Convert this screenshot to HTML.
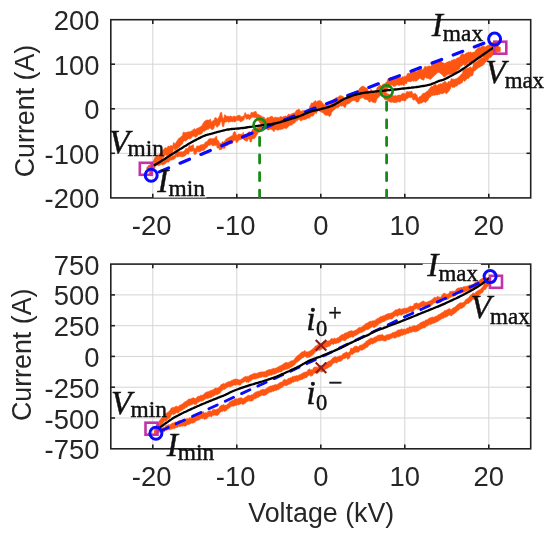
<!DOCTYPE html>
<html><head><meta charset="utf-8"><title>I-V curves</title>
<style>html,body{margin:0;padding:0;background:#fff}svg{display:block}</style></head>
<body>
<svg width="550" height="536" viewBox="0 0 550 536">
<rect width="550" height="536" fill="#fff"/>
<g stroke="#d4d4d4" stroke-width="1"><line x1="152.8" y1="19.7" x2="152.8" y2="197.9"/><line x1="236.8" y1="19.7" x2="236.8" y2="197.9"/><line x1="320.8" y1="19.7" x2="320.8" y2="197.9"/><line x1="404.8" y1="19.7" x2="404.8" y2="197.9"/><line x1="488.8" y1="19.7" x2="488.8" y2="197.9"/><line x1="110.8" y1="153.3" x2="530.7" y2="153.3"/><line x1="110.8" y1="108.8" x2="530.7" y2="108.8"/><line x1="110.8" y1="64.2" x2="530.7" y2="64.2"/></g>
<g stroke="#d4d4d4" stroke-width="1"><line x1="152.8" y1="264.1" x2="152.8" y2="448.8"/><line x1="236.8" y1="264.1" x2="236.8" y2="448.8"/><line x1="320.8" y1="264.1" x2="320.8" y2="448.8"/><line x1="404.8" y1="264.1" x2="404.8" y2="448.8"/><line x1="488.8" y1="264.1" x2="488.8" y2="448.8"/><line x1="110.8" y1="418.0" x2="530.7" y2="418.0"/><line x1="110.8" y1="387.2" x2="530.7" y2="387.2"/><line x1="110.8" y1="356.4" x2="530.7" y2="356.4"/><line x1="110.8" y1="325.7" x2="530.7" y2="325.7"/><line x1="110.8" y1="294.9" x2="530.7" y2="294.9"/></g>
<g stroke="#222" stroke-width="1.6"><rect x="110.8" y="19.7" width="419.9" height="178.2" fill="none"/><line x1="152.8" y1="197.9" x2="152.8" y2="193.70000000000002"/><line x1="152.8" y1="19.7" x2="152.8" y2="23.9"/><line x1="236.8" y1="197.9" x2="236.8" y2="193.70000000000002"/><line x1="236.8" y1="19.7" x2="236.8" y2="23.9"/><line x1="320.8" y1="197.9" x2="320.8" y2="193.70000000000002"/><line x1="320.8" y1="19.7" x2="320.8" y2="23.9"/><line x1="404.8" y1="197.9" x2="404.8" y2="193.70000000000002"/><line x1="404.8" y1="19.7" x2="404.8" y2="23.9"/><line x1="488.8" y1="197.9" x2="488.8" y2="193.70000000000002"/><line x1="488.8" y1="19.7" x2="488.8" y2="23.9"/><line x1="110.8" y1="153.3" x2="115.0" y2="153.3"/><line x1="530.7" y1="153.3" x2="526.5" y2="153.3"/><line x1="110.8" y1="108.8" x2="115.0" y2="108.8"/><line x1="530.7" y1="108.8" x2="526.5" y2="108.8"/><line x1="110.8" y1="64.2" x2="115.0" y2="64.2"/><line x1="530.7" y1="64.2" x2="526.5" y2="64.2"/></g>
<g stroke="#222" stroke-width="1.6"><rect x="110.8" y="264.1" width="419.9" height="184.7" fill="none"/><line x1="152.8" y1="448.8" x2="152.8" y2="444.6"/><line x1="152.8" y1="264.1" x2="152.8" y2="268.3"/><line x1="236.8" y1="448.8" x2="236.8" y2="444.6"/><line x1="236.8" y1="264.1" x2="236.8" y2="268.3"/><line x1="320.8" y1="448.8" x2="320.8" y2="444.6"/><line x1="320.8" y1="264.1" x2="320.8" y2="268.3"/><line x1="404.8" y1="448.8" x2="404.8" y2="444.6"/><line x1="404.8" y1="264.1" x2="404.8" y2="268.3"/><line x1="488.8" y1="448.8" x2="488.8" y2="444.6"/><line x1="488.8" y1="264.1" x2="488.8" y2="268.3"/><line x1="110.8" y1="418.0" x2="115.0" y2="418.0"/><line x1="530.7" y1="418.0" x2="526.5" y2="418.0"/><line x1="110.8" y1="387.2" x2="115.0" y2="387.2"/><line x1="530.7" y1="387.2" x2="526.5" y2="387.2"/><line x1="110.8" y1="356.4" x2="115.0" y2="356.4"/><line x1="530.7" y1="356.4" x2="526.5" y2="356.4"/><line x1="110.8" y1="325.7" x2="115.0" y2="325.7"/><line x1="530.7" y1="325.7" x2="526.5" y2="325.7"/><line x1="110.8" y1="294.9" x2="115.0" y2="294.9"/><line x1="530.7" y1="294.9" x2="526.5" y2="294.9"/></g>
<line x1="422.7" y1="264.55" x2="480.9" y2="264.55" stroke="#fff" stroke-width="1.5"/>
<line x1="153.6" y1="197.3" x2="206.4" y2="197.3" stroke="#fff" stroke-width="0.7"/>
<path d="M146.8 167.4 L147.5 166.8 L148.2 166.1 L148.9 165.0 L149.6 165.1 L150.3 164.9 L151.0 164.6 L151.7 163.7 L152.4 163.0 L153.1 161.3 L153.8 160.1 L154.5 157.9 L155.2 157.0 L155.9 157.1 L156.6 155.6 L157.3 154.8 L158.0 154.9 L158.7 155.3 L159.4 153.8 L160.1 153.2 L160.8 152.6 L161.5 153.7 L162.2 153.0 L162.9 150.1 L163.6 149.6 L164.3 148.4 L165.0 148.0 L165.7 147.5 L166.4 148.2 L167.1 147.5 L167.8 146.6 L168.5 145.8 L169.2 146.8 L169.9 146.1 L170.6 145.5 L171.3 145.8 L172.0 145.4 L172.7 146.8 L173.4 142.5 L174.1 142.8 L174.8 144.3 L175.5 143.2 L176.2 141.9 L176.9 140.9 L177.6 140.0 L178.3 138.8 L179.0 138.2 L179.7 137.8 L180.4 137.3 L181.1 136.5 L181.8 136.0 L182.5 135.5 L183.2 132.1 L183.9 132.3 L184.6 132.4 L185.3 132.5 L186.0 132.4 L186.7 132.3 L187.4 132.1 L188.1 131.9 L188.8 131.7 L189.5 131.8 L190.2 131.4 L190.9 131.4 L191.6 130.8 L192.3 130.4 L193.0 130.0 L193.7 129.0 L194.4 128.5 L195.1 129.9 L195.8 128.9 L196.5 128.7 L197.2 128.2 L197.9 128.1 L198.6 127.8 L199.3 127.3 L200.0 126.9 L200.7 126.6 L201.4 126.0 L202.1 125.5 L202.8 123.5 L203.5 122.9 L204.2 121.7 L204.9 120.8 L205.6 120.7 L206.3 120.3 L207.0 120.0 L207.7 120.1 L208.4 120.2 L209.1 119.8 L209.8 119.9 L210.5 118.9 L211.2 121.9 L211.9 121.9 L212.6 120.8 L213.3 120.5 L214.0 120.6 L214.7 117.9 L215.4 117.7 L216.1 117.5 L216.8 119.1 L217.5 119.0 L218.2 118.2 L218.9 116.9 L219.6 115.8 L220.3 112.8 L221.0 112.4 L221.7 112.5 L222.4 116.9 L223.1 118.2 L223.8 118.4 L224.5 114.7 L225.2 115.1 L225.9 115.5 L226.6 116.2 L227.3 116.2 L228.0 116.1 L228.7 116.5 L229.4 116.4 L230.1 116.0 L230.8 115.9 L231.5 116.3 L232.2 117.4 L232.9 116.3 L233.6 116.3 L234.3 116.2 L235.0 116.1 L235.7 117.0 L236.4 116.2 L237.1 116.0 L237.8 115.5 L238.5 115.3 L239.2 115.4 L239.9 115.0 L240.6 116.8 L241.3 116.6 L242.0 116.7 L242.7 116.5 L243.4 115.9 L244.1 115.8 L244.8 112.8 L245.5 112.7 L246.2 114.8 L246.9 114.7 L247.6 114.4 L248.3 114.3 L249.0 114.9 L249.7 114.9 L250.4 114.8 L251.1 112.4 L251.8 112.3 L252.5 112.6 L253.2 112.7 L253.9 111.8 L254.6 111.7 L255.3 111.5 L256.0 111.3 L256.7 113.4 L257.4 114.0 L258.1 114.5 L258.8 114.5 L259.5 115.0 L260.2 115.6 L260.9 115.5 L261.6 116.2 L262.3 116.7 L263.0 117.3 L263.7 116.9 L264.4 117.3 L265.1 118.9 L265.8 119.1 L266.5 118.8 L267.2 117.6 L267.9 117.6 L268.6 117.7 L269.3 117.4 L270.0 117.1 L270.7 116.2 L271.4 116.3 L272.1 116.5 L272.8 116.7 L273.5 117.9 L274.2 118.2 L274.9 116.9 L275.6 117.2 L276.3 117.5 L277.0 117.2 L277.7 117.4 L278.4 117.5 L279.1 117.7 L279.8 116.8 L280.5 116.6 L281.2 116.4 L281.9 117.3 L282.6 117.1 L283.3 116.8 L284.0 116.1 L284.7 116.5 L285.4 115.9 L286.1 116.3 L286.8 116.1 L287.5 115.4 L288.2 114.2 L288.9 114.0 L289.6 114.8 L290.3 114.7 L291.0 114.5 L291.7 113.6 L292.4 113.5 L293.1 113.1 L293.8 113.0 L294.5 112.9 L295.2 112.3 L295.9 111.1 L296.6 110.1 L297.3 110.1 L298.0 109.5 L298.7 109.1 L299.4 109.5 L300.1 110.4 L300.8 111.2 L301.5 111.3 L302.2 111.4 L302.9 109.9 L303.6 111.1 L304.3 110.9 L305.0 111.1 L305.7 111.3 L306.4 111.4 L307.1 110.9 L307.8 110.0 L308.5 109.3 L309.2 108.5 L309.9 106.0 L310.6 105.1 L311.3 102.9 L312.0 103.1 L312.7 103.0 L313.4 102.5 L314.1 101.5 L314.8 101.0 L315.5 100.5 L316.2 102.2 L316.9 101.6 L317.6 101.1 L318.3 100.8 L319.0 100.7 L319.7 100.6 L320.4 100.8 L321.1 101.3 L321.8 101.9 L322.5 103.1 L323.2 103.6 L323.9 104.5 L324.6 104.7 L325.3 104.5 L326.0 105.3 L326.7 105.3 L327.4 105.5 L328.1 105.6 L328.8 105.6 L329.5 105.0 L330.2 104.2 L330.9 103.4 L331.6 101.1 L332.3 100.6 L333.0 99.9 L333.7 99.2 L334.4 99.0 L335.1 98.3 L335.8 97.9 L336.5 97.3 L337.2 97.3 L337.9 97.2 L338.6 96.7 L339.3 96.1 L340.0 95.5 L340.7 95.7 L341.4 96.1 L342.1 95.8 L342.8 96.7 L343.5 96.7 L344.2 98.3 L344.9 98.9 L345.6 98.2 L346.3 96.9 L347.0 96.5 L347.7 96.1 L348.4 95.8 L349.1 95.9 L349.8 95.5 L350.5 94.9 L351.2 94.0 L351.9 93.6 L352.6 94.2 L353.3 93.7 L354.0 93.3 L354.7 91.7 L355.4 92.3 L356.1 93.1 L356.8 91.5 L357.5 90.8 L358.2 90.2 L358.9 90.0 L359.6 88.1 L360.3 87.8 L361.0 86.9 L361.7 86.5 L362.4 86.3 L363.1 86.0 L363.8 86.5 L364.5 86.8 L365.2 87.8 L365.9 87.7 L366.6 88.0 L367.3 88.4 L368.0 90.1 L368.7 91.6 L369.4 91.9 L370.1 90.8 L370.8 89.6 L371.5 89.8 L372.2 90.7 L372.9 90.9 L373.6 91.6 L374.3 92.0 L375.0 92.6 L375.7 91.8 L376.4 89.7 L377.1 87.5 L377.8 86.9 L378.5 86.5 L379.2 85.6 L379.9 85.4 L380.6 85.1 L381.3 86.1 L382.0 85.7 L382.7 84.2 L383.4 84.3 L384.1 83.6 L384.8 84.1 L385.5 83.1 L386.2 82.3 L386.9 81.6 L387.6 79.8 L388.3 78.2 L389.0 79.1 L389.7 78.8 L390.4 77.6 L391.1 77.0 L391.8 78.7 L392.5 78.4 L393.2 79.0 L393.9 77.8 L394.6 77.6 L395.3 77.8 L396.0 77.8 L396.7 77.4 L397.4 77.3 L398.1 76.8 L398.8 77.5 L399.5 77.3 L400.2 77.5 L400.9 77.5 L401.6 77.4 L402.3 77.3 L403.0 76.2 L403.7 77.6 L404.4 76.4 L405.1 76.2 L405.8 76.3 L406.5 76.1 L407.2 73.8 L407.9 73.4 L408.6 73.2 L409.3 73.4 L410.0 72.8 L410.7 72.6 L411.4 72.1 L412.1 72.6 L412.8 71.2 L413.5 71.3 L414.2 71.2 L414.9 70.9 L415.6 71.5 L416.3 71.7 L417.0 71.4 L417.7 70.5 L418.4 70.2 L419.1 68.6 L419.8 68.8 L420.5 68.5 L421.2 69.5 L421.9 69.0 L422.6 69.7 L423.3 69.4 L424.0 68.1 L424.7 66.5 L425.4 66.2 L426.1 66.9 L426.8 66.8 L427.5 66.4 L428.2 66.2 L428.9 66.0 L429.6 66.1 L430.3 66.5 L431.0 65.8 L431.7 65.2 L432.4 64.4 L433.1 63.9 L433.8 63.3 L434.5 62.3 L435.2 63.3 L435.9 62.7 L436.6 61.7 L437.3 60.6 L438.0 59.9 L438.7 60.1 L439.4 60.5 L440.1 61.1 L440.8 61.2 L441.5 61.4 L442.2 62.5 L442.9 62.6 L443.6 63.0 L444.3 63.1 L445.0 63.8 L445.7 62.8 L446.4 62.4 L447.1 61.9 L447.8 61.9 L448.5 61.5 L449.2 61.2 L449.9 61.2 L450.6 61.2 L451.3 60.9 L452.0 59.7 L452.7 60.6 L453.4 59.4 L454.1 59.3 L454.8 59.4 L455.5 59.3 L456.2 59.2 L456.9 58.0 L457.6 58.0 L458.3 57.6 L459.0 57.6 L459.7 57.3 L460.4 55.6 L461.1 54.6 L461.8 54.3 L462.5 53.4 L463.2 54.3 L463.9 54.0 L464.6 54.8 L465.3 53.5 L466.0 53.2 L466.7 53.0 L467.4 52.7 L468.1 52.3 L468.8 52.0 L469.5 52.4 L470.2 52.1 L470.9 51.9 L471.6 52.8 L472.3 52.5 L473.0 52.4 L473.7 52.1 L474.4 51.9 L475.1 51.5 L475.8 49.7 L476.5 49.3 L477.2 49.0 L477.9 48.1 L478.6 47.8 L479.3 46.8 L480.0 47.9 L480.7 47.5 L481.4 46.5 L482.1 46.3 L482.8 46.2 L483.5 45.9 L484.2 46.2 L484.9 46.9 L485.6 46.8 L486.3 46.3 L487.0 45.8 L487.7 45.6 L488.4 45.3 L489.1 45.1 L489.8 44.2 L490.5 43.7 L491.2 43.1 L491.9 42.9 L492.6 42.6 L493.3 42.1 L494.0 42.3 L494.7 42.0 L495.4 40.8 L496.1 42.2 L496.8 43.9 L497.5 43.6 L498.2 45.8 L498.9 46.7 L499.6 47.0 L500.3 47.4 L500.3 51.6 L499.6 51.8 L498.9 51.8 L498.2 51.8 L497.5 51.1 L496.8 52.8 L496.1 53.3 L495.4 51.9 L494.7 52.0 L494.0 52.0 L493.3 52.4 L492.6 52.6 L491.9 53.1 L491.2 53.3 L490.5 53.6 L489.8 54.1 L489.1 54.8 L488.4 55.2 L487.7 55.7 L487.0 56.0 L486.3 56.3 L485.6 56.8 L484.9 56.7 L484.2 57.0 L483.5 56.9 L482.8 57.0 L482.1 57.3 L481.4 57.9 L480.7 58.1 L480.0 58.3 L479.3 57.9 L478.6 58.8 L477.9 59.1 L477.2 58.7 L476.5 59.0 L475.8 59.3 L475.1 62.1 L474.4 62.3 L473.7 62.6 L473.0 63.0 L472.3 62.9 L471.6 63.3 L470.9 62.7 L470.2 63.1 L469.5 63.5 L468.8 61.9 L468.1 62.9 L467.4 63.8 L466.7 64.5 L466.0 64.9 L465.3 65.1 L464.6 65.9 L463.9 64.2 L463.2 64.5 L462.5 65.2 L461.8 66.0 L461.1 66.4 L460.4 66.6 L459.7 68.7 L459.0 69.5 L458.3 69.9 L457.6 70.1 L456.9 70.6 L456.2 72.0 L455.5 72.5 L454.8 72.9 L454.1 73.3 L453.4 73.3 L452.7 74.7 L452.0 74.1 L451.3 73.9 L450.6 74.2 L449.9 74.4 L449.2 74.3 L448.5 74.6 L447.8 74.8 L447.1 75.1 L446.4 75.3 L445.7 76.2 L445.0 77.2 L444.3 77.0 L443.6 76.7 L442.9 75.5 L442.2 75.1 L441.5 74.0 L440.8 73.7 L440.1 73.4 L439.4 72.7 L438.7 72.5 L438.0 72.2 L437.3 72.8 L436.6 73.6 L435.9 74.4 L435.2 75.1 L434.5 75.4 L433.8 76.3 L433.1 77.0 L432.4 77.6 L431.7 78.3 L431.0 78.9 L430.3 79.4 L429.6 79.2 L428.9 78.7 L428.2 78.5 L427.5 78.3 L426.8 78.3 L426.1 78.1 L425.4 77.2 L424.7 77.4 L424.0 80.0 L423.3 80.2 L422.6 79.9 L421.9 79.2 L421.2 79.5 L420.5 78.1 L419.8 78.4 L419.1 78.7 L418.4 79.5 L417.7 80.1 L417.0 80.8 L416.3 81.0 L415.6 81.2 L414.9 80.6 L414.2 81.1 L413.5 81.5 L412.8 80.8 L412.1 81.0 L411.4 81.2 L410.7 82.0 L410.0 81.5 L409.3 81.6 L408.6 81.7 L407.9 81.8 L407.2 81.8 L406.5 84.0 L405.8 83.5 L405.1 84.3 L404.4 84.8 L403.7 85.9 L403.0 84.7 L402.3 84.8 L401.6 85.2 L400.9 85.0 L400.2 85.1 L399.5 85.4 L398.8 85.6 L398.1 85.0 L397.4 84.9 L396.7 85.0 L396.0 85.4 L395.3 86.2 L394.6 86.4 L393.9 86.2 L393.2 86.5 L392.5 85.1 L391.8 85.4 L391.1 84.8 L390.4 85.1 L389.7 87.4 L389.0 88.2 L388.3 87.4 L387.6 89.0 L386.9 90.4 L386.2 91.3 L385.5 92.2 L384.8 93.1 L384.1 93.5 L383.4 94.3 L382.7 95.0 L382.0 96.0 L381.3 95.8 L380.6 95.5 L379.9 95.9 L379.2 96.6 L378.5 97.6 L377.8 98.0 L377.1 98.8 L376.4 100.8 L375.7 102.5 L375.0 103.3 L374.3 102.5 L373.6 102.4 L372.9 102.2 L372.2 102.1 L371.5 100.9 L370.8 101.0 L370.1 102.3 L369.4 101.9 L368.7 101.7 L368.0 100.1 L367.3 99.9 L366.6 99.6 L365.9 99.4 L365.2 99.5 L364.5 99.0 L363.8 98.7 L363.1 97.3 L362.4 97.7 L361.7 98.0 L361.0 98.4 L360.3 98.6 L359.6 99.1 L358.9 101.0 L358.2 102.1 L357.5 101.9 L356.8 102.0 L356.1 102.1 L355.4 100.4 L354.7 100.5 L354.0 100.6 L353.3 100.4 L352.6 100.8 L351.9 101.2 L351.2 101.7 L350.5 102.2 L349.8 102.9 L349.1 103.5 L348.4 103.7 L347.7 104.2 L347.0 104.0 L346.3 104.5 L345.6 107.2 L344.9 107.4 L344.2 107.3 L343.5 106.0 L342.8 105.9 L342.1 105.8 L341.4 106.2 L340.7 105.9 L340.0 105.8 L339.3 106.8 L338.6 107.4 L337.9 107.7 L337.2 107.8 L336.5 107.9 L335.8 108.3 L335.1 109.1 L334.4 109.9 L333.7 110.0 L333.0 111.0 L332.3 111.8 L331.6 112.6 L330.9 115.3 L330.2 116.1 L329.5 116.8 L328.8 116.1 L328.1 115.4 L327.4 115.2 L326.7 115.3 L326.0 115.2 L325.3 115.0 L324.6 114.7 L323.9 113.8 L323.2 112.9 L322.5 112.6 L321.8 112.2 L321.1 112.2 L320.4 111.7 L319.7 111.3 L319.0 110.9 L318.3 110.6 L317.6 111.5 L316.9 112.4 L316.2 113.9 L315.5 112.4 L314.8 113.2 L314.1 114.5 L313.4 115.8 L312.7 116.2 L312.0 116.0 L311.3 116.1 L310.6 116.8 L309.9 117.4 L309.2 118.6 L308.5 118.0 L307.8 118.1 L307.1 118.8 L306.4 118.9 L305.7 119.1 L305.0 120.0 L304.3 119.6 L303.6 119.9 L302.9 119.2 L302.2 120.4 L301.5 120.5 L300.8 120.7 L300.1 120.7 L299.4 119.3 L298.7 119.2 L298.0 120.2 L297.3 120.8 L296.6 120.5 L295.9 121.7 L295.2 122.5 L294.5 123.1 L293.8 123.5 L293.1 123.7 L292.4 124.1 L291.7 125.2 L291.0 124.9 L290.3 125.2 L289.6 125.5 L288.9 126.2 L288.2 126.5 L287.5 127.6 L286.8 128.4 L286.1 128.2 L285.4 128.6 L284.7 128.1 L284.0 128.3 L283.3 128.8 L282.6 129.1 L281.9 129.3 L281.2 129.4 L280.5 129.6 L279.8 129.5 L279.1 129.9 L278.4 130.1 L277.7 129.9 L277.0 130.3 L276.3 129.4 L275.6 129.7 L274.9 129.6 L274.2 131.6 L273.5 131.4 L272.8 130.3 L272.1 129.7 L271.4 129.6 L270.7 129.0 L270.0 129.5 L269.3 129.4 L268.6 130.1 L267.9 130.0 L267.2 129.6 L266.5 129.1 L265.8 129.0 L265.1 128.7 L264.4 127.2 L263.7 127.0 L263.0 125.9 L262.3 125.0 L261.6 124.2 L260.9 124.2 L260.2 123.3 L259.5 122.4 L258.8 120.8 L258.1 120.7 L257.4 119.9 L256.7 119.0 L256.0 117.3 L255.3 117.8 L254.6 117.8 L253.9 117.2 L253.2 117.2 L252.5 117.3 L251.8 117.6 L251.1 117.7 L250.4 118.9 L249.7 119.5 L249.0 119.6 L248.3 118.8 L247.6 118.9 L246.9 119.0 L246.2 119.3 L245.5 117.2 L244.8 117.3 L244.1 119.5 L243.4 120.4 L242.7 120.5 L242.0 121.4 L241.3 121.5 L240.6 122.0 L239.9 120.7 L239.2 120.8 L238.5 120.4 L237.8 120.5 L237.1 120.5 L236.4 120.3 L235.7 121.8 L235.0 121.8 L234.3 121.9 L233.6 121.4 L232.9 121.5 L232.2 121.9 L231.5 121.6 L230.8 121.7 L230.1 121.8 L229.4 121.9 L228.7 122.4 L228.0 121.9 L227.3 121.2 L226.6 122.0 L225.9 122.2 L225.2 122.2 L224.5 122.4 L223.8 126.3 L223.1 127.1 L222.4 126.2 L221.7 121.2 L221.0 121.8 L220.3 122.3 L219.6 124.9 L218.9 125.4 L218.2 126.2 L217.5 126.9 L216.8 127.3 L216.1 125.6 L215.4 125.3 L214.7 125.4 L214.0 127.9 L213.3 129.3 L212.6 129.5 L211.9 129.6 L211.2 129.2 L210.5 128.1 L209.8 128.3 L209.1 128.2 L208.4 129.5 L207.7 129.5 L207.0 129.7 L206.3 129.9 L205.6 130.2 L204.9 131.0 L204.2 131.6 L203.5 131.0 L202.8 131.7 L202.1 133.4 L201.4 133.8 L200.7 134.2 L200.0 134.2 L199.3 134.6 L198.6 134.6 L197.9 135.0 L197.2 136.2 L196.5 136.5 L195.8 136.9 L195.1 137.3 L194.4 135.9 L193.7 136.3 L193.0 136.2 L192.3 136.6 L191.6 137.8 L190.9 138.6 L190.2 138.5 L189.5 139.0 L188.8 138.7 L188.1 139.1 L187.4 139.5 L186.7 140.3 L186.0 140.8 L185.3 141.2 L184.6 140.8 L183.9 141.2 L183.2 141.8 L182.5 143.9 L181.8 144.4 L181.1 144.9 L180.4 145.9 L179.7 146.8 L179.0 147.3 L178.3 148.1 L177.6 148.3 L176.9 148.9 L176.2 149.3 L175.5 149.9 L174.8 150.5 L174.1 148.3 L173.4 148.7 L172.7 152.8 L172.0 153.4 L171.3 153.7 L170.6 154.3 L169.9 154.9 L169.2 155.8 L168.5 154.6 L167.8 155.2 L167.1 155.4 L166.4 155.5 L165.7 154.8 L165.0 155.3 L164.3 156.4 L163.6 157.9 L162.9 157.1 L162.2 159.7 L161.5 161.3 L160.8 160.2 L160.1 160.7 L159.4 160.5 L158.7 161.1 L158.0 160.4 L157.3 161.3 L156.6 161.9 L155.9 162.5 L155.2 162.1 L154.5 162.7 L153.8 164.5 L153.1 165.8 L152.4 166.9 L151.7 167.7 L151.0 168.5 L150.3 169.2 L149.6 169.3 L148.9 169.2 L148.2 169.0 L147.5 168.9 L146.8 169.3 Z" fill="#ff5512" stroke="#ff5512" stroke-width="0.6" stroke-linejoin="round"/>
<path d="M149.3 171.4 L150.0 169.7 L150.7 169.0 L151.4 167.7 L152.1 167.1 L152.8 165.9 L153.5 164.1 L154.2 163.0 L154.9 162.7 L155.6 161.5 L156.3 161.3 L157.0 161.3 L157.7 160.9 L158.4 162.0 L159.1 161.9 L159.8 161.5 L160.5 160.8 L161.2 160.4 L161.9 160.1 L162.6 161.7 L163.3 161.3 L164.0 160.9 L164.7 160.3 L165.4 159.9 L166.1 158.9 L166.8 158.6 L167.5 158.5 L168.2 158.1 L168.9 157.6 L169.6 157.3 L170.3 156.6 L171.0 156.8 L171.7 156.5 L172.4 155.7 L173.1 155.9 L173.8 155.5 L174.5 155.3 L175.2 154.2 L175.9 153.3 L176.6 152.0 L177.3 151.9 L178.0 151.5 L178.7 152.0 L179.4 151.8 L180.1 151.8 L180.8 151.7 L181.5 151.8 L182.2 151.4 L182.9 152.0 L183.6 151.3 L184.3 150.8 L185.0 150.1 L185.7 148.6 L186.4 148.5 L187.1 148.4 L187.8 148.0 L188.5 147.6 L189.2 145.7 L189.9 145.5 L190.6 146.1 L191.3 145.9 L192.0 145.2 L192.7 144.9 L193.4 144.7 L194.1 149.0 L194.8 148.4 L195.5 148.2 L196.2 148.0 L196.9 145.7 L197.6 146.0 L198.3 146.1 L199.0 145.9 L199.7 145.7 L200.4 145.1 L201.1 144.8 L201.8 144.8 L202.5 144.6 L203.2 144.4 L203.9 143.9 L204.6 143.6 L205.3 142.1 L206.0 141.9 L206.7 141.6 L207.4 141.2 L208.1 140.0 L208.8 139.0 L209.5 138.8 L210.2 138.5 L210.9 138.7 L211.6 138.5 L212.3 138.9 L213.0 138.6 L213.7 138.4 L214.4 138.2 L215.1 137.9 L215.8 136.6 L216.5 135.9 L217.2 139.6 L217.9 140.3 L218.6 140.8 L219.3 142.7 L220.0 143.2 L220.7 143.5 L221.4 143.4 L222.1 141.8 L222.8 141.7 L223.5 142.0 L224.2 141.4 L224.9 141.0 L225.6 139.4 L226.3 138.9 L227.0 138.4 L227.7 138.0 L228.4 138.1 L229.1 136.9 L229.8 136.9 L230.5 136.4 L231.2 135.9 L231.9 135.8 L232.6 135.7 L233.3 132.7 L234.0 131.7 L234.7 131.4 L235.4 131.9 L236.1 134.8 L236.8 135.1 L237.5 135.2 L238.2 134.1 L238.9 133.9 L239.6 134.1 L240.3 134.1 L241.0 134.2 L241.7 134.3 L242.4 134.4 L243.1 132.3 L243.8 134.2 L244.5 134.5 L245.2 134.4 L245.9 134.2 L246.6 134.3 L247.3 134.4 L248.0 132.2 L248.7 131.9 L249.4 131.6 L250.1 135.0 L250.8 134.5 L251.5 134.1 L252.2 129.5 L252.9 129.6 L253.6 129.1 L254.3 128.6 L255.0 128.0 L255.7 128.4 L256.4 128.0 L257.1 127.8 L257.8 127.5 L258.5 127.0 L259.2 126.7 L259.9 126.9 L260.6 126.0 L261.3 125.7 L262.0 125.2 L262.0 129.6 L261.3 130.5 L260.6 131.1 L259.9 132.1 L259.2 132.0 L258.5 132.6 L257.8 133.2 L257.1 134.7 L256.4 135.6 L255.7 137.0 L255.0 137.8 L254.3 138.7 L253.6 138.8 L252.9 138.9 L252.2 138.3 L251.5 141.8 L250.8 141.9 L250.1 142.0 L249.4 138.8 L248.7 138.8 L248.0 139.3 L247.3 141.2 L246.6 141.3 L245.9 140.7 L245.2 140.7 L244.5 140.2 L243.8 139.9 L243.1 137.6 L242.4 138.6 L241.7 139.2 L241.0 139.5 L240.3 139.5 L239.6 140.0 L238.9 140.1 L238.2 140.8 L237.5 142.2 L236.8 142.5 L236.1 142.3 L235.4 139.8 L234.7 140.1 L234.0 140.9 L233.3 141.1 L232.6 143.2 L231.9 143.9 L231.2 143.5 L230.5 143.8 L229.8 144.1 L229.1 144.3 L228.4 144.6 L227.7 145.7 L227.0 145.6 L226.3 145.9 L225.6 146.6 L224.9 148.2 L224.2 148.4 L223.5 148.2 L222.8 148.2 L222.1 148.4 L221.4 149.8 L220.7 149.5 L220.0 150.1 L219.3 149.6 L218.6 148.0 L217.9 147.9 L217.2 148.2 L216.5 145.3 L215.8 145.3 L215.1 145.5 L214.4 145.5 L213.7 145.8 L213.0 145.8 L212.3 145.8 L211.6 144.6 L210.9 144.6 L210.2 145.1 L209.5 145.4 L208.8 145.0 L208.1 145.9 L207.4 147.1 L206.7 147.8 L206.0 148.2 L205.3 148.5 L204.6 149.9 L203.9 150.3 L203.2 150.6 L202.5 150.5 L201.8 150.6 L201.1 151.1 L200.4 151.5 L199.7 151.9 L199.0 152.0 L198.3 151.8 L197.6 151.5 L196.9 151.7 L196.2 154.1 L195.5 154.3 L194.8 154.1 L194.1 154.4 L193.4 150.2 L192.7 151.1 L192.0 151.4 L191.3 151.4 L190.6 151.3 L189.9 151.6 L189.2 151.9 L188.5 154.3 L187.8 154.0 L187.1 153.9 L186.4 154.2 L185.7 155.0 L185.0 156.3 L184.3 156.0 L183.6 156.2 L182.9 157.2 L182.2 156.5 L181.5 156.7 L180.8 156.5 L180.1 156.5 L179.4 156.3 L178.7 156.4 L178.0 156.9 L177.3 157.0 L176.6 156.5 L175.9 157.4 L175.2 158.2 L174.5 159.0 L173.8 159.2 L173.1 160.0 L172.4 159.8 L171.7 160.1 L171.0 160.1 L170.3 160.3 L169.6 161.1 L168.9 161.9 L168.2 162.2 L167.5 162.0 L166.8 162.2 L166.1 162.6 L165.4 163.7 L164.7 164.1 L164.0 164.5 L163.3 164.8 L162.6 165.2 L161.9 164.3 L161.2 164.4 L160.5 164.8 L159.8 165.2 L159.1 165.3 L158.4 166.2 L157.7 165.1 L157.0 165.2 L156.3 165.5 L155.6 166.1 L154.9 167.8 L154.2 168.2 L153.5 169.1 L152.8 171.2 L152.1 173.1 L151.4 174.6 L150.7 175.1 L150.0 174.9 L149.3 174.7 Z" fill="#ff5512" stroke="#ff5512" stroke-width="0.6" stroke-linejoin="round"/>
<path d="M384.0 91.3 L384.7 91.9 L385.4 92.6 L386.1 93.2 L386.8 92.5 L387.5 94.2 L388.2 94.3 L388.9 94.1 L389.6 94.4 L390.3 95.1 L391.0 95.2 L391.7 95.2 L392.4 95.6 L393.1 95.7 L393.8 95.7 L394.5 95.8 L395.2 95.4 L395.9 95.5 L396.6 96.0 L397.3 95.5 L398.0 95.3 L398.7 95.1 L399.4 95.1 L400.1 94.9 L400.8 95.2 L401.5 94.1 L402.2 93.5 L402.9 93.4 L403.6 93.0 L404.3 93.8 L405.0 93.7 L405.7 93.8 L406.4 91.8 L407.1 91.8 L407.8 91.6 L408.5 91.9 L409.2 91.7 L409.9 91.6 L410.6 91.7 L411.3 91.2 L412.0 91.5 L412.7 93.3 L413.4 93.9 L414.1 94.1 L414.8 93.3 L415.5 93.6 L416.2 94.4 L416.9 95.0 L417.6 97.4 L418.3 97.8 L419.0 97.2 L419.7 96.6 L420.4 96.3 L421.1 95.6 L421.8 95.3 L422.5 93.7 L423.2 93.4 L423.9 93.1 L424.6 93.1 L425.3 92.8 L426.0 91.9 L426.7 91.6 L427.4 90.9 L428.1 90.7 L428.8 89.2 L429.5 88.5 L430.2 87.7 L430.9 86.8 L431.6 86.5 L432.3 86.8 L433.0 85.9 L433.7 85.4 L434.4 84.9 L435.1 84.6 L435.8 84.4 L436.5 85.3 L437.2 85.4 L437.9 85.6 L438.6 84.1 L439.3 84.2 L440.0 83.9 L440.7 83.6 L441.4 83.9 L442.1 83.5 L442.8 83.1 L443.5 82.2 L444.2 81.8 L444.9 81.1 L445.6 81.7 L446.3 82.8 L447.0 83.3 L447.7 82.7 L448.4 81.4 L449.1 81.5 L449.8 81.5 L450.5 81.0 L451.2 78.8 L451.9 78.5 L452.6 79.2 L453.3 78.9 L454.0 79.5 L454.7 79.2 L455.4 78.9 L456.1 78.8 L456.8 78.5 L457.5 78.1 L458.2 77.4 L458.9 76.6 L459.6 76.2 L460.3 75.4 L461.0 74.6 L461.7 73.7 L462.4 73.4 L463.1 70.1 L463.8 68.9 L464.5 69.6 L465.2 68.9 L465.9 68.7 L466.6 68.2 L467.3 67.7 L468.0 68.4 L468.7 67.9 L469.4 67.6 L470.1 67.1 L470.8 66.7 L471.5 68.2 L472.2 67.8 L472.9 66.4 L473.6 62.6 L474.3 62.2 L475.0 63.5 L475.7 62.0 L476.4 61.8 L477.1 61.3 L477.8 60.9 L478.5 60.0 L479.2 59.5 L479.9 59.0 L480.6 58.8 L481.3 58.2 L482.0 58.1 L482.7 58.0 L483.4 57.5 L484.1 56.8 L484.8 56.2 L485.5 55.5 L486.2 54.8 L486.9 53.7 L487.6 53.4 L488.3 52.9 L489.0 52.2 L489.7 51.5 L490.4 51.2 L491.1 50.6 L491.8 50.5 L492.5 49.8 L493.2 49.1 L493.9 46.8 L494.6 47.0 L495.3 46.9 L496.0 46.7 L496.7 48.0 L497.4 47.5 L498.1 47.4 L498.1 50.1 L497.4 51.4 L496.7 52.0 L496.0 51.2 L495.3 52.0 L494.6 52.6 L493.9 52.3 L493.2 54.9 L492.5 55.5 L491.8 56.2 L491.1 57.1 L490.4 57.8 L489.7 57.6 L489.0 58.3 L488.3 59.5 L487.6 60.2 L486.9 60.5 L486.2 61.8 L485.5 62.2 L484.8 62.9 L484.1 64.3 L483.4 64.9 L482.7 65.6 L482.0 65.9 L481.3 65.9 L480.6 66.8 L479.9 67.0 L479.2 67.5 L478.5 67.7 L477.8 68.3 L477.1 68.8 L476.4 69.3 L475.7 70.2 L475.0 70.8 L474.3 71.0 L473.6 71.6 L472.9 75.2 L472.2 75.7 L471.5 76.2 L470.8 75.5 L470.1 76.8 L469.4 77.2 L468.7 78.2 L468.0 78.9 L467.3 78.3 L466.6 79.2 L465.9 80.0 L465.2 81.0 L464.5 81.5 L463.8 80.3 L463.1 80.5 L462.4 82.6 L461.7 82.9 L461.0 83.1 L460.3 84.1 L459.6 84.4 L458.9 83.8 L458.2 84.7 L457.5 85.5 L456.8 85.9 L456.1 86.3 L455.4 86.3 L454.7 87.2 L454.0 87.5 L453.3 87.2 L452.6 87.7 L451.9 86.4 L451.2 86.7 L450.5 88.9 L449.8 89.5 L449.1 91.2 L448.4 91.8 L447.7 92.4 L447.0 93.4 L446.3 94.0 L445.6 92.7 L444.9 92.4 L444.2 92.9 L443.5 93.2 L442.8 93.5 L442.1 93.9 L441.4 93.7 L440.7 93.6 L440.0 94.2 L439.3 94.5 L438.6 94.4 L437.9 94.7 L437.2 95.0 L436.5 94.9 L435.8 94.9 L435.1 95.1 L434.4 95.5 L433.7 95.2 L433.0 95.1 L432.3 95.9 L431.6 95.6 L430.9 96.7 L430.2 96.9 L429.5 97.4 L428.8 98.4 L428.1 100.1 L427.4 101.1 L426.7 101.6 L426.0 102.1 L425.3 102.7 L424.6 102.0 L423.9 101.9 L423.2 101.8 L422.5 102.6 L421.8 103.1 L421.1 103.0 L420.4 103.3 L419.7 103.7 L419.0 103.6 L418.3 103.9 L417.6 103.2 L416.9 101.5 L416.2 101.3 L415.5 99.7 L414.8 99.6 L414.1 100.2 L413.4 99.9 L412.7 99.6 L412.0 97.5 L411.3 97.2 L410.6 97.7 L409.9 97.3 L409.2 97.5 L408.5 97.7 L407.8 98.6 L407.1 98.8 L406.4 98.8 L405.7 100.8 L405.0 101.0 L404.3 101.1 L403.6 100.5 L402.9 100.7 L402.2 100.3 L401.5 100.4 L400.8 101.5 L400.1 102.0 L399.4 102.2 L398.7 101.7 L398.0 101.8 L397.3 102.0 L396.6 102.4 L395.9 102.5 L395.2 102.5 L394.5 102.4 L393.8 102.4 L393.1 102.4 L392.4 102.0 L391.7 102.3 L391.0 102.3 L390.3 102.3 L389.6 101.8 L388.9 101.6 L388.2 101.0 L387.5 100.7 L386.8 99.5 L386.1 100.0 L385.4 100.0 L384.7 99.4 L384.0 98.8 Z" fill="#ff5512" stroke="#ff5512" stroke-width="0.6" stroke-linejoin="round"/>
<path d="M154.5 429.6 L155.2 428.4 L155.9 427.1 L156.6 426.0 L157.3 425.2 L158.0 424.1 L158.7 422.5 L159.4 420.4 L160.1 419.9 L160.8 419.1 L161.5 418.1 L162.2 417.3 L162.9 416.5 L163.6 415.7 L164.3 414.1 L165.0 413.4 L165.7 414.0 L166.4 413.2 L167.1 412.4 L167.8 412.4 L168.5 412.0 L169.2 411.0 L169.9 410.6 L170.6 409.0 L171.3 408.0 L172.0 407.7 L172.7 407.3 L173.4 407.6 L174.1 407.4 L174.8 406.8 L175.5 406.5 L176.2 406.3 L176.9 405.9 L177.6 407.0 L178.3 406.5 L179.0 406.1 L179.7 405.0 L180.4 404.9 L181.1 404.6 L181.8 404.2 L182.5 403.7 L183.2 403.2 L183.9 402.5 L184.6 402.0 L185.3 401.6 L186.0 401.3 L186.7 400.8 L187.4 400.3 L188.1 399.4 L188.8 399.0 L189.5 399.1 L190.2 399.0 L190.9 398.8 L191.6 398.5 L192.3 398.1 L193.0 398.0 L193.7 397.6 L194.4 398.6 L195.1 398.3 L195.8 398.4 L196.5 398.1 L197.2 396.8 L197.9 396.6 L198.6 396.1 L199.3 396.2 L200.0 395.7 L200.7 395.2 L201.4 395.3 L202.1 395.3 L202.8 395.0 L203.5 394.5 L204.2 393.8 L204.9 392.9 L205.6 392.5 L206.3 392.2 L207.0 391.8 L207.7 391.8 L208.4 391.4 L209.1 391.4 L209.8 391.0 L210.5 390.6 L211.2 390.4 L211.9 390.1 L212.6 390.0 L213.3 389.5 L214.0 389.2 L214.7 388.3 L215.4 388.1 L216.1 387.9 L216.8 388.3 L217.5 388.0 L218.2 387.6 L218.9 387.3 L219.6 386.4 L220.3 385.9 L221.0 384.5 L221.7 384.5 L222.4 384.1 L223.1 383.5 L223.8 383.5 L224.5 383.9 L225.2 383.4 L225.9 383.1 L226.6 382.6 L227.3 382.3 L228.0 381.9 L228.7 381.5 L229.4 381.5 L230.1 381.3 L230.8 380.9 L231.5 380.3 L232.2 380.2 L232.9 379.9 L233.6 379.5 L234.3 379.4 L235.0 378.9 L235.7 378.9 L236.4 379.3 L237.1 378.9 L237.8 379.5 L238.5 379.6 L239.2 379.8 L239.9 379.9 L240.6 380.0 L241.3 378.9 L242.0 378.8 L242.7 378.4 L243.4 377.4 L244.1 377.5 L244.8 376.6 L245.5 376.0 L246.2 376.9 L246.9 376.6 L247.6 376.2 L248.3 376.4 L249.0 376.0 L249.7 375.2 L250.4 375.0 L251.1 374.8 L251.8 374.5 L252.5 374.0 L253.2 373.8 L253.9 373.6 L254.6 373.2 L255.3 373.3 L256.0 373.6 L256.7 373.4 L257.4 373.1 L258.1 372.7 L258.8 372.5 L259.5 372.1 L260.2 372.1 L260.9 372.0 L261.6 371.9 L262.3 371.8 L263.0 371.7 L263.7 372.0 L264.4 371.8 L265.1 371.5 L265.8 371.3 L266.5 370.6 L267.2 370.3 L267.9 370.0 L268.6 369.8 L269.3 369.6 L270.0 369.4 L270.7 369.4 L271.4 369.2 L272.1 368.9 L272.8 368.6 L273.5 368.3 L274.2 368.5 L274.9 368.4 L275.6 368.1 L276.3 367.9 L277.0 367.4 L277.7 367.1 L278.4 366.8 L279.1 366.4 L279.8 365.8 L280.5 365.7 L281.2 365.3 L281.9 365.0 L282.6 364.4 L283.3 363.9 L284.0 363.5 L284.7 363.1 L285.4 362.5 L286.1 362.3 L286.8 362.6 L287.5 362.7 L288.2 362.6 L288.9 362.5 L289.6 362.0 L290.3 361.2 L291.0 360.8 L291.7 360.9 L292.4 360.6 L293.1 360.4 L293.8 359.9 L294.5 359.1 L295.2 358.1 L295.9 357.2 L296.6 356.4 L297.3 355.7 L298.0 355.3 L298.7 354.8 L299.4 354.2 L300.1 353.7 L300.8 352.7 L301.5 352.2 L302.2 351.9 L302.9 351.7 L303.6 351.6 L304.3 350.8 L305.0 350.6 L305.7 351.3 L306.4 352.1 L307.1 351.9 L307.8 351.8 L308.5 351.6 L309.2 351.5 L309.9 350.8 L310.6 350.6 L311.3 350.1 L312.0 349.6 L312.7 349.0 L313.4 348.2 L314.1 347.8 L314.8 346.6 L315.5 346.0 L316.2 346.0 L316.9 345.3 L317.6 344.8 L318.3 344.2 L319.0 345.2 L319.7 344.0 L320.4 343.8 L321.1 343.4 L321.8 343.1 L322.5 342.7 L323.2 342.0 L323.9 341.7 L324.6 341.4 L325.3 341.4 L326.0 341.2 L326.7 341.3 L327.4 341.1 L328.1 341.0 L328.8 340.8 L329.5 340.6 L330.2 340.3 L330.9 338.7 L331.6 338.5 L332.3 338.6 L333.0 339.2 L333.7 338.8 L334.4 337.8 L335.1 338.7 L335.8 338.7 L336.5 338.4 L337.2 337.8 L337.9 337.7 L338.6 337.4 L339.3 336.5 L340.0 335.9 L340.7 335.4 L341.4 335.0 L342.1 334.4 L342.8 334.3 L343.5 334.4 L344.2 333.5 L344.9 332.9 L345.6 333.0 L346.3 332.8 L347.0 332.6 L347.7 331.9 L348.4 331.7 L349.1 331.1 L349.8 331.2 L350.5 330.9 L351.2 330.7 L351.9 330.5 L352.6 331.2 L353.3 331.0 L354.0 331.0 L354.7 330.5 L355.4 330.2 L356.1 329.5 L356.8 329.6 L357.5 329.0 L358.2 328.1 L358.9 327.6 L359.6 327.4 L360.3 327.4 L361.0 327.3 L361.7 326.9 L362.4 326.4 L363.1 326.0 L363.8 325.3 L364.5 325.0 L365.2 324.0 L365.9 323.6 L366.6 323.3 L367.3 323.1 L368.0 322.4 L368.7 322.0 L369.4 321.6 L370.1 321.2 L370.8 321.2 L371.5 321.2 L372.2 321.0 L372.9 320.7 L373.6 320.7 L374.3 320.5 L375.0 320.9 L375.7 319.5 L376.4 319.2 L377.1 318.6 L377.8 318.2 L378.5 318.2 L379.2 317.4 L379.9 317.1 L380.6 316.4 L381.3 316.7 L382.0 316.3 L382.7 316.0 L383.4 315.7 L384.1 315.5 L384.8 315.2 L385.5 314.8 L386.2 314.5 L386.9 314.0 L387.6 313.8 L388.3 313.6 L389.0 313.4 L389.7 313.5 L390.4 313.2 L391.1 313.0 L391.8 312.8 L392.5 312.5 L393.2 311.6 L393.9 311.4 L394.6 310.8 L395.3 309.9 L396.0 309.5 L396.7 309.9 L397.4 309.6 L398.1 309.3 L398.8 308.7 L399.5 308.6 L400.2 308.6 L400.9 309.8 L401.6 308.9 L402.3 308.9 L403.0 308.6 L403.7 308.5 L404.4 308.2 L405.1 308.3 L405.8 308.2 L406.5 308.1 L407.2 308.2 L407.9 307.6 L408.6 306.9 L409.3 306.5 L410.0 306.2 L410.7 305.9 L411.4 306.5 L412.1 306.1 L412.8 306.1 L413.5 305.7 L414.2 303.6 L414.9 303.5 L415.6 303.2 L416.3 303.0 L417.0 302.8 L417.7 303.9 L418.4 303.6 L419.1 303.6 L419.8 303.1 L420.5 302.3 L421.2 302.1 L421.9 301.7 L422.6 300.9 L423.3 301.0 L424.0 301.1 L424.7 302.3 L425.4 302.1 L426.1 302.3 L426.8 302.1 L427.5 301.8 L428.2 301.6 L428.9 300.9 L429.6 301.0 L430.3 300.8 L431.0 300.5 L431.7 299.5 L432.4 299.2 L433.1 298.9 L433.8 297.6 L434.5 297.3 L435.2 297.6 L435.9 297.5 L436.6 297.2 L437.3 296.4 L438.0 296.2 L438.7 297.3 L439.4 296.9 L440.1 297.4 L440.8 297.1 L441.5 295.9 L442.2 294.7 L442.9 293.8 L443.6 293.6 L444.3 293.3 L445.0 293.0 L445.7 294.6 L446.4 294.2 L447.1 294.2 L447.8 293.9 L448.5 293.5 L449.2 293.2 L449.9 291.1 L450.6 291.6 L451.3 291.4 L452.0 291.4 L452.7 291.0 L453.4 291.3 L454.1 291.3 L454.8 291.1 L455.5 291.0 L456.2 289.1 L456.9 289.0 L457.6 288.1 L458.3 287.9 L459.0 287.7 L459.7 288.1 L460.4 287.5 L461.1 287.3 L461.8 287.6 L462.5 287.4 L463.2 286.8 L463.9 286.8 L464.6 286.6 L465.3 286.6 L466.0 286.4 L466.7 286.3 L467.4 286.0 L468.1 285.7 L468.8 285.5 L469.5 285.1 L470.2 285.1 L470.9 285.0 L471.6 284.7 L472.3 284.6 L473.0 284.3 L473.7 283.9 L474.4 283.6 L475.1 282.2 L475.8 282.0 L476.5 282.5 L477.2 281.3 L477.9 281.1 L478.6 281.0 L479.3 280.5 L480.0 280.1 L480.7 279.0 L481.4 278.8 L482.1 278.8 L482.8 278.1 L483.5 277.8 L484.2 278.0 L484.9 278.4 L485.6 278.2 L486.3 277.6 L487.0 278.0 L487.7 277.7 L488.4 277.6 L489.1 277.3 L489.8 277.0 L490.5 275.6 L490.5 279.5 L489.8 281.1 L489.1 281.8 L488.4 282.2 L487.7 282.5 L487.0 282.6 L486.3 282.4 L485.6 282.7 L484.9 283.7 L484.2 283.5 L483.5 283.4 L482.8 283.7 L482.1 284.1 L481.4 284.1 L480.7 284.5 L480.0 285.4 L479.3 285.8 L478.6 286.1 L477.9 286.4 L477.2 286.4 L476.5 287.6 L475.8 287.8 L475.1 288.0 L474.4 289.1 L473.7 289.3 L473.0 289.6 L472.3 289.8 L471.6 290.0 L470.9 290.2 L470.2 290.3 L469.5 290.2 L468.8 290.7 L468.1 290.5 L467.4 290.8 L466.7 291.1 L466.0 291.3 L465.3 291.6 L464.6 291.9 L463.9 292.3 L463.2 292.2 L462.5 292.9 L461.8 293.1 L461.1 293.2 L460.4 293.4 L459.7 293.6 L459.0 292.8 L458.3 293.0 L457.6 293.0 L456.9 294.6 L456.2 294.3 L455.5 295.9 L454.8 295.9 L454.1 296.1 L453.4 296.8 L452.7 296.5 L452.0 296.8 L451.3 296.8 L450.6 297.5 L449.9 296.9 L449.2 298.5 L448.5 298.8 L447.8 299.4 L447.1 299.4 L446.4 299.4 L445.7 300.2 L445.0 298.4 L444.3 298.8 L443.6 298.7 L442.9 299.0 L442.2 299.8 L441.5 301.0 L440.8 302.1 L440.1 302.8 L439.4 302.2 L438.7 302.5 L438.0 301.6 L437.3 301.8 L436.6 302.3 L435.9 302.6 L435.2 303.0 L434.5 302.8 L433.8 302.9 L433.1 304.1 L432.4 304.8 L431.7 305.1 L431.0 305.9 L430.3 305.5 L429.6 305.7 L428.9 306.2 L428.2 306.9 L427.5 307.1 L426.8 307.3 L426.1 307.7 L425.4 307.5 L424.7 307.7 L424.0 306.3 L423.3 306.5 L422.6 306.6 L421.9 306.8 L421.2 307.1 L420.5 307.4 L419.8 308.8 L419.1 309.1 L418.4 309.4 L417.7 309.5 L417.0 308.2 L416.3 308.6 L415.6 309.0 L414.9 309.3 L414.2 309.7 L413.5 311.8 L412.8 312.1 L412.1 312.2 L411.4 312.2 L410.7 311.5 L410.0 311.8 L409.3 312.1 L408.6 312.3 L407.9 312.6 L407.2 313.3 L406.5 313.3 L405.8 313.4 L405.1 313.6 L404.4 313.8 L403.7 314.1 L403.0 313.8 L402.3 314.7 L401.6 314.9 L400.9 315.5 L400.2 314.5 L399.5 314.9 L398.8 315.1 L398.1 316.1 L397.4 316.3 L396.7 316.1 L396.0 315.6 L395.3 315.9 L394.6 316.4 L393.9 317.2 L393.2 317.5 L392.5 318.7 L391.8 318.9 L391.1 319.1 L390.4 318.8 L389.7 319.1 L389.0 319.3 L388.3 319.6 L387.6 319.8 L386.9 320.0 L386.2 320.3 L385.5 320.5 L384.8 321.4 L384.1 321.3 L383.4 321.7 L382.7 322.0 L382.0 322.3 L381.3 322.7 L380.6 323.1 L379.9 323.5 L379.2 323.5 L378.5 324.4 L377.8 324.8 L377.1 325.6 L376.4 326.2 L375.7 326.4 L375.0 327.4 L374.3 327.3 L373.6 327.7 L372.9 326.6 L372.2 326.9 L371.5 327.2 L370.8 327.7 L370.1 327.9 L369.4 328.8 L368.7 329.2 L368.0 329.6 L367.3 329.7 L366.6 329.6 L365.9 329.9 L365.2 330.2 L364.5 331.0 L363.8 331.2 L363.1 331.8 L362.4 332.1 L361.7 332.4 L361.0 332.5 L360.3 332.7 L359.6 333.0 L358.9 333.6 L358.2 334.1 L357.5 334.6 L356.8 335.0 L356.1 335.3 L355.4 335.7 L354.7 335.7 L354.0 336.7 L353.3 337.0 L352.6 337.3 L351.9 336.7 L351.2 337.0 L350.5 337.3 L349.8 337.6 L349.1 337.8 L348.4 338.5 L347.7 338.5 L347.0 338.8 L346.3 339.6 L345.6 340.6 L344.9 340.4 L344.2 340.8 L343.5 340.4 L342.8 340.1 L342.1 340.4 L341.4 340.8 L340.7 341.8 L340.0 342.2 L339.3 341.9 L338.6 342.9 L337.9 343.0 L337.2 343.0 L336.5 343.6 L335.8 343.8 L335.1 343.8 L334.4 343.4 L333.7 344.4 L333.0 344.5 L332.3 343.9 L331.6 344.0 L330.9 344.4 L330.2 345.9 L329.5 346.2 L328.8 346.2 L328.1 346.5 L327.4 347.0 L326.7 347.3 L326.0 347.2 L325.3 347.4 L324.6 347.3 L323.9 347.4 L323.2 347.8 L322.5 348.3 L321.8 349.1 L321.1 349.6 L320.4 349.9 L319.7 350.3 L319.0 350.4 L318.3 350.1 L317.6 350.7 L316.9 351.1 L316.2 351.5 L315.5 352.0 L314.8 352.5 L314.1 353.8 L313.4 354.3 L312.7 355.0 L312.0 355.4 L311.3 355.8 L310.6 356.4 L309.9 356.9 L309.2 357.2 L308.5 357.3 L307.8 357.5 L307.1 357.7 L306.4 357.4 L305.7 357.1 L305.0 356.3 L304.3 356.8 L303.6 357.5 L302.9 357.9 L302.2 358.1 L301.5 358.7 L300.8 359.0 L300.1 360.0 L299.4 360.5 L298.7 361.1 L298.0 361.7 L297.3 362.1 L296.6 362.6 L295.9 363.3 L295.2 364.2 L294.5 364.9 L293.8 365.6 L293.1 365.9 L292.4 366.4 L291.7 366.9 L291.0 367.1 L290.3 367.6 L289.6 368.3 L288.9 368.5 L288.2 368.7 L287.5 368.9 L286.8 369.3 L286.1 369.3 L285.4 369.5 L284.7 369.9 L284.0 369.9 L283.3 370.3 L282.6 370.7 L281.9 371.5 L281.2 371.9 L280.5 371.9 L279.8 372.0 L279.1 372.3 L278.4 372.7 L277.7 372.6 L277.0 373.0 L276.3 373.5 L275.6 373.8 L274.9 374.1 L274.2 374.3 L273.5 374.3 L272.8 374.6 L272.1 374.8 L271.4 375.6 L270.7 375.1 L270.0 375.3 L269.3 375.5 L268.6 375.7 L267.9 375.9 L267.2 376.8 L266.5 376.9 L265.8 377.1 L265.1 376.8 L264.4 377.0 L263.7 377.1 L263.0 376.6 L262.3 376.7 L261.6 377.3 L260.9 377.4 L260.2 377.5 L259.5 377.7 L258.8 378.1 L258.1 378.2 L257.4 378.3 L256.7 378.6 L256.0 378.8 L255.3 379.1 L254.6 379.0 L253.9 379.3 L253.2 378.9 L252.5 379.2 L251.8 380.3 L251.1 380.6 L250.4 380.9 L249.7 381.2 L249.0 382.2 L248.3 382.4 L247.6 381.9 L246.9 382.2 L246.2 382.4 L245.5 381.3 L244.8 381.5 L244.1 382.1 L243.4 382.3 L242.7 382.9 L242.0 383.1 L241.3 383.6 L240.6 385.0 L239.9 385.1 L239.2 385.2 L238.5 384.8 L237.8 384.9 L237.1 384.5 L236.4 384.7 L235.7 385.2 L235.0 385.3 L234.3 384.9 L233.6 385.2 L232.9 385.8 L232.2 386.0 L231.5 386.3 L230.8 386.8 L230.1 386.8 L229.4 386.8 L228.7 386.7 L228.0 386.9 L227.3 387.2 L226.6 387.7 L225.9 388.7 L225.2 388.8 L224.5 389.5 L223.8 389.3 L223.1 389.8 L222.4 390.1 L221.7 390.9 L221.0 391.4 L220.3 392.9 L219.6 393.1 L218.9 393.9 L218.2 394.0 L217.5 394.7 L216.8 394.9 L216.1 394.5 L215.4 395.0 L214.7 395.3 L214.0 395.9 L213.3 396.2 L212.6 396.5 L211.9 397.2 L211.2 397.5 L210.5 397.8 L209.8 397.7 L209.1 398.0 L208.4 398.3 L207.7 398.6 L207.0 398.6 L206.3 398.6 L205.6 398.9 L204.9 399.4 L204.2 400.1 L203.5 400.4 L202.8 400.6 L202.1 400.9 L201.4 401.2 L200.7 401.1 L200.0 401.6 L199.3 401.9 L198.6 402.2 L197.9 402.5 L197.2 402.8 L196.5 404.3 L195.8 404.6 L195.1 404.3 L194.4 404.6 L193.7 403.7 L193.0 404.1 L192.3 404.5 L191.6 404.8 L190.9 404.9 L190.2 405.3 L189.5 405.8 L188.8 405.5 L188.1 406.1 L187.4 406.9 L186.7 407.2 L186.0 407.6 L185.3 408.0 L184.6 408.4 L183.9 408.8 L183.2 409.5 L182.5 409.9 L181.8 410.3 L181.1 410.6 L180.4 411.0 L179.7 411.4 L179.0 412.6 L178.3 413.0 L177.6 413.2 L176.9 412.2 L176.2 413.1 L175.5 413.6 L174.8 414.0 L174.1 414.2 L173.4 414.7 L172.7 414.0 L172.0 414.6 L171.3 415.0 L170.6 416.2 L169.9 417.9 L169.2 418.4 L168.5 418.8 L167.8 419.3 L167.1 419.8 L166.4 420.7 L165.7 421.4 L165.0 420.5 L164.3 421.2 L163.6 422.7 L162.9 423.4 L162.2 424.1 L161.5 424.9 L160.8 425.7 L160.1 426.4 L159.4 427.1 L158.7 428.9 L158.0 429.7 L157.3 430.6 L156.6 431.0 L155.9 431.7 L155.2 432.5 L154.5 433.2 Z" fill="#ff5512" stroke="#ff5512" stroke-width="0.6" stroke-linejoin="round"/>
<path d="M154.5 431.4 L155.2 430.6 L155.9 430.1 L156.6 429.6 L157.3 429.0 L158.0 428.5 L158.7 428.2 L159.4 427.8 L160.1 427.9 L160.8 427.8 L161.5 428.2 L162.2 427.9 L162.9 427.8 L163.6 427.5 L164.3 427.4 L165.0 427.1 L165.7 425.4 L166.4 425.4 L167.1 425.2 L167.8 425.1 L168.5 424.7 L169.2 424.4 L169.9 425.3 L170.6 424.3 L171.3 424.0 L172.0 423.3 L172.7 423.0 L173.4 423.0 L174.1 422.5 L174.8 422.2 L175.5 422.0 L176.2 422.1 L176.9 421.8 L177.6 421.6 L178.3 421.0 L179.0 420.6 L179.7 420.8 L180.4 420.5 L181.1 420.3 L181.8 420.2 L182.5 420.4 L183.2 420.1 L183.9 419.6 L184.6 420.2 L185.3 419.7 L186.0 419.5 L186.7 418.4 L187.4 418.7 L188.1 418.4 L188.8 418.4 L189.5 417.8 L190.2 418.0 L190.9 417.8 L191.6 417.0 L192.3 416.8 L193.0 416.6 L193.7 416.4 L194.4 416.2 L195.1 416.3 L195.8 414.9 L196.5 414.7 L197.2 414.3 L197.9 414.2 L198.6 413.9 L199.3 413.6 L200.0 412.8 L200.7 412.5 L201.4 412.1 L202.1 411.8 L202.8 412.1 L203.5 411.6 L204.2 413.1 L204.9 412.9 L205.6 412.6 L206.3 412.9 L207.0 412.8 L207.7 411.5 L208.4 411.1 L209.1 411.0 L209.8 410.9 L210.5 410.8 L211.2 411.4 L211.9 411.1 L212.6 409.7 L213.3 409.5 L214.0 409.2 L214.7 409.7 L215.4 409.8 L216.1 409.6 L216.8 409.2 L217.5 408.9 L218.2 408.8 L218.9 407.9 L219.6 406.8 L220.3 406.0 L221.0 405.5 L221.7 405.1 L222.4 405.2 L223.1 404.8 L223.8 404.4 L224.5 405.2 L225.2 405.3 L225.9 405.2 L226.6 405.0 L227.3 404.3 L228.0 403.8 L228.7 403.3 L229.4 401.9 L230.1 401.5 L230.8 401.2 L231.5 400.7 L232.2 400.2 L232.9 400.4 L233.6 399.7 L234.3 399.2 L235.0 398.9 L235.7 398.8 L236.4 398.8 L237.1 398.8 L237.8 398.9 L238.5 398.3 L239.2 398.0 L239.9 397.9 L240.6 397.8 L241.3 397.5 L242.0 398.3 L242.7 398.5 L243.4 398.5 L244.1 397.9 L244.8 397.7 L245.5 396.9 L246.2 396.6 L246.9 396.0 L247.6 395.8 L248.3 395.5 L249.0 394.8 L249.7 395.8 L250.4 395.6 L251.1 394.9 L251.8 394.6 L252.5 394.8 L253.2 394.4 L253.9 393.1 L254.6 392.9 L255.3 392.2 L256.0 392.0 L256.7 391.7 L257.4 391.4 L258.1 391.2 L258.8 391.2 L259.5 390.9 L260.2 390.4 L260.9 389.8 L261.6 389.8 L262.3 389.5 L263.0 388.8 L263.7 389.6 L264.4 389.6 L265.1 389.2 L265.8 388.9 L266.5 388.2 L267.2 387.8 L267.9 387.5 L268.6 386.9 L269.3 386.5 L270.0 386.2 L270.7 385.9 L271.4 385.9 L272.1 385.6 L272.8 385.4 L273.5 385.2 L274.2 384.9 L274.9 384.8 L275.6 384.5 L276.3 384.8 L277.0 384.5 L277.7 384.2 L278.4 383.6 L279.1 383.3 L279.8 382.4 L280.5 382.3 L281.2 382.1 L281.9 381.9 L282.6 381.6 L283.3 380.1 L284.0 379.5 L284.7 379.3 L285.4 379.8 L286.1 380.1 L286.8 379.8 L287.5 379.2 L288.2 378.4 L288.9 378.0 L289.6 378.3 L290.3 377.7 L291.0 377.5 L291.7 377.4 L292.4 376.3 L293.1 376.7 L293.8 376.4 L294.5 376.0 L295.2 376.1 L295.9 375.9 L296.6 375.6 L297.3 375.8 L298.0 375.4 L298.7 375.2 L299.4 374.8 L300.1 374.4 L300.8 374.3 L301.5 373.6 L302.2 373.5 L302.9 372.9 L303.6 372.6 L304.3 372.2 L305.0 372.1 L305.7 372.1 L306.4 371.8 L307.1 371.5 L307.8 369.9 L308.5 369.5 L309.2 369.2 L309.9 368.7 L310.6 370.4 L311.3 369.5 L312.0 369.9 L312.7 369.6 L313.4 367.8 L314.1 367.3 L314.8 367.0 L315.5 367.2 L316.2 366.5 L316.9 367.4 L317.6 367.2 L318.3 366.9 L319.0 366.2 L319.7 366.0 L320.4 365.1 L321.1 365.8 L321.8 365.5 L322.5 365.5 L323.2 365.2 L323.9 364.1 L324.6 363.5 L325.3 363.2 L326.0 362.8 L326.7 362.5 L327.4 362.1 L328.1 361.6 L328.8 361.1 L329.5 360.9 L330.2 360.5 L330.9 360.0 L331.6 359.6 L332.3 358.3 L333.0 358.0 L333.7 357.4 L334.4 357.0 L335.1 356.8 L335.8 356.8 L336.5 357.3 L337.2 357.0 L337.9 356.6 L338.6 356.2 L339.3 355.9 L340.0 356.0 L340.7 355.7 L341.4 355.7 L342.1 355.2 L342.8 353.8 L343.5 353.5 L344.2 353.2 L344.9 352.8 L345.6 352.5 L346.3 351.9 L347.0 351.9 L347.7 353.2 L348.4 352.6 L349.1 352.1 L349.8 351.5 L350.5 348.4 L351.2 348.1 L351.9 348.5 L352.6 348.3 L353.3 347.8 L354.0 346.8 L354.7 346.4 L355.4 346.2 L356.1 346.1 L356.8 346.0 L357.5 346.8 L358.2 346.9 L358.9 346.5 L359.6 345.4 L360.3 345.2 L361.0 344.9 L361.7 344.9 L362.4 344.4 L363.1 343.9 L363.8 343.6 L364.5 343.1 L365.2 342.6 L365.9 341.3 L366.6 341.0 L367.3 340.5 L368.0 340.2 L368.7 339.4 L369.4 339.0 L370.1 338.6 L370.8 338.2 L371.5 338.0 L372.2 338.5 L372.9 338.2 L373.6 337.8 L374.3 337.2 L375.0 337.0 L375.7 336.8 L376.4 336.5 L377.1 335.6 L377.8 335.5 L378.5 335.3 L379.2 335.1 L379.9 335.0 L380.6 334.9 L381.3 334.7 L382.0 334.7 L382.7 334.6 L383.4 335.8 L384.1 335.8 L384.8 335.9 L385.5 335.4 L386.2 335.0 L386.9 334.9 L387.6 334.6 L388.3 334.5 L389.0 334.4 L389.7 334.1 L390.4 333.9 L391.1 333.8 L391.8 333.1 L392.5 332.7 L393.2 332.2 L393.9 332.6 L394.6 332.1 L395.3 331.9 L396.0 331.4 L396.7 330.9 L397.4 330.3 L398.1 329.9 L398.8 330.0 L399.5 329.8 L400.2 329.6 L400.9 329.4 L401.6 328.7 L402.3 329.2 L403.0 329.4 L403.7 329.1 L404.4 329.0 L405.1 329.4 L405.8 329.2 L406.5 328.5 L407.2 328.1 L407.9 327.8 L408.6 328.0 L409.3 326.8 L410.0 326.6 L410.7 326.9 L411.4 326.9 L412.1 326.3 L412.8 326.2 L413.5 325.7 L414.2 325.8 L414.9 325.4 L415.6 326.1 L416.3 325.7 L417.0 325.3 L417.7 324.6 L418.4 324.3 L419.1 323.9 L419.8 323.4 L420.5 322.6 L421.2 322.2 L421.9 322.2 L422.6 321.9 L423.3 321.1 L424.0 321.4 L424.7 321.2 L425.4 320.1 L426.1 319.7 L426.8 320.0 L427.5 319.7 L428.2 318.8 L428.9 318.5 L429.6 318.1 L430.3 317.8 L431.0 317.4 L431.7 317.2 L432.4 316.9 L433.1 317.4 L433.8 317.2 L434.5 316.8 L435.2 316.6 L435.9 316.2 L436.6 315.9 L437.3 315.4 L438.0 315.0 L438.7 314.6 L439.4 314.2 L440.1 313.9 L440.8 313.5 L441.5 312.7 L442.2 312.6 L442.9 312.2 L443.6 311.9 L444.3 310.7 L445.0 310.3 L445.7 310.7 L446.4 310.1 L447.1 309.8 L447.8 309.8 L448.5 308.8 L449.2 308.8 L449.9 308.5 L450.6 309.7 L451.3 309.4 L452.0 309.2 L452.7 308.0 L453.4 307.8 L454.1 307.6 L454.8 307.1 L455.5 306.4 L456.2 305.9 L456.9 305.1 L457.6 304.6 L458.3 304.0 L459.0 303.4 L459.7 303.0 L460.4 302.7 L461.1 303.0 L461.8 302.7 L462.5 302.8 L463.2 302.5 L463.9 301.9 L464.6 301.6 L465.3 299.9 L466.0 299.5 L466.7 299.0 L467.4 298.4 L468.1 298.1 L468.8 297.5 L469.5 296.5 L470.2 295.4 L470.9 294.9 L471.6 294.4 L472.3 293.4 L473.0 292.8 L473.7 293.2 L474.4 293.5 L475.1 292.7 L475.8 292.0 L476.5 291.6 L477.2 291.2 L477.9 290.6 L478.6 290.2 L479.3 290.0 L480.0 289.6 L480.7 288.9 L481.4 288.0 L482.1 287.3 L482.8 286.5 L483.5 285.2 L484.2 283.9 L484.9 283.0 L485.6 283.4 L486.3 282.5 L487.0 281.7 L487.7 281.2 L488.4 280.4 L489.1 279.5 L489.8 278.2 L490.5 277.1 L490.5 281.8 L489.8 283.2 L489.1 284.8 L488.4 285.8 L487.7 286.6 L487.0 287.2 L486.3 288.1 L485.6 289.5 L484.9 289.2 L484.2 289.9 L483.5 291.1 L482.8 292.4 L482.1 293.0 L481.4 293.1 L480.7 293.7 L480.0 294.2 L479.3 294.9 L478.6 295.7 L477.9 296.2 L477.2 296.5 L476.5 297.6 L475.8 298.2 L475.1 298.8 L474.4 299.6 L473.7 299.6 L473.0 299.1 L472.3 299.7 L471.6 300.9 L470.9 301.5 L470.2 302.1 L469.5 302.5 L468.8 303.4 L468.1 303.4 L467.4 303.5 L466.7 303.9 L466.0 304.6 L465.3 305.0 L464.6 306.6 L463.9 307.0 L463.2 307.2 L462.5 308.0 L461.8 308.3 L461.1 308.7 L460.4 308.5 L459.7 308.9 L459.0 309.8 L458.3 310.4 L457.6 310.7 L456.9 311.6 L456.2 312.2 L455.5 312.6 L454.8 313.2 L454.1 313.7 L453.4 314.2 L452.7 314.6 L452.0 315.6 L451.3 315.9 L450.6 315.7 L449.9 314.9 L449.2 315.2 L448.5 315.2 L447.8 316.2 L447.1 316.5 L446.4 317.0 L445.7 317.3 L445.0 317.1 L444.3 317.4 L443.6 318.4 L442.9 318.5 L442.2 318.6 L441.5 318.9 L440.8 319.7 L440.1 319.8 L439.4 320.2 L438.7 321.0 L438.0 321.4 L437.3 321.8 L436.6 322.0 L435.9 322.2 L435.2 322.8 L434.5 323.0 L433.8 323.2 L433.1 323.5 L432.4 323.6 L431.7 324.0 L431.0 324.3 L430.3 324.6 L429.6 324.5 L428.9 324.8 L428.2 325.1 L427.5 326.1 L426.8 326.0 L426.1 326.4 L425.4 327.5 L424.7 327.8 L424.0 328.2 L423.3 327.8 L422.6 328.2 L421.9 328.5 L421.2 328.9 L420.5 329.3 L419.8 329.6 L419.1 330.3 L418.4 331.0 L417.7 330.9 L417.0 331.3 L416.3 331.7 L415.6 332.1 L414.9 331.5 L414.2 331.9 L413.5 331.7 L412.8 331.6 L412.1 331.9 L411.4 332.4 L410.7 332.5 L410.0 332.5 L409.3 332.8 L408.6 333.4 L407.9 333.5 L407.2 333.5 L406.5 333.8 L405.8 334.3 L405.1 334.6 L404.4 334.4 L403.7 334.7 L403.0 335.3 L402.3 335.6 L401.6 335.1 L400.9 335.9 L400.2 336.3 L399.5 336.6 L398.8 337.0 L398.1 336.6 L397.4 336.8 L396.7 337.3 L396.0 337.8 L395.3 338.1 L394.6 338.1 L393.9 338.3 L393.2 337.6 L392.5 337.8 L391.8 338.1 L391.1 338.6 L390.4 338.7 L389.7 339.4 L389.0 339.6 L388.3 339.7 L387.6 339.4 L386.9 339.8 L386.2 340.8 L385.5 341.0 L384.8 340.9 L384.1 341.0 L383.4 341.1 L382.7 340.2 L382.0 340.4 L381.3 340.6 L380.6 340.8 L379.9 341.0 L379.2 340.8 L378.5 340.8 L377.8 341.0 L377.1 341.4 L376.4 341.9 L375.7 342.5 L375.0 342.8 L374.3 343.0 L373.6 343.5 L372.9 343.7 L372.2 344.1 L371.5 343.7 L370.8 344.3 L370.1 344.8 L369.4 344.9 L368.7 345.5 L368.0 346.7 L367.3 347.2 L366.6 347.5 L365.9 347.9 L365.2 348.4 L364.5 348.8 L363.8 349.1 L363.1 349.8 L362.4 350.1 L361.7 350.4 L361.0 349.8 L360.3 350.2 L359.6 350.7 L358.9 351.9 L358.2 352.2 L357.5 352.3 L356.8 351.9 L356.1 352.3 L355.4 352.5 L354.7 352.7 L354.0 353.0 L353.3 354.0 L352.6 354.4 L351.9 354.7 L351.2 353.9 L350.5 355.1 L349.8 357.8 L349.1 358.3 L348.4 358.9 L347.7 359.4 L347.0 358.0 L346.3 357.6 L345.6 358.2 L344.9 358.4 L344.2 358.6 L343.5 358.8 L342.8 359.0 L342.1 360.3 L341.4 361.0 L340.7 361.2 L340.0 361.4 L339.3 361.4 L338.6 361.6 L337.9 362.3 L337.2 362.5 L336.5 362.9 L335.8 362.7 L335.1 362.4 L334.4 362.8 L333.7 363.3 L333.0 363.7 L332.3 364.0 L331.6 366.0 L330.9 366.2 L330.2 366.6 L329.5 367.0 L328.8 367.4 L328.1 367.8 L327.4 368.2 L326.7 368.7 L326.0 368.9 L325.3 369.3 L324.6 369.7 L323.9 370.1 L323.2 371.4 L322.5 371.7 L321.8 372.0 L321.1 372.0 L320.4 371.3 L319.7 371.6 L319.0 372.1 L318.3 372.8 L317.6 373.2 L316.9 373.5 L316.2 372.6 L315.5 372.7 L314.8 373.3 L314.1 373.5 L313.4 373.8 L312.7 375.5 L312.0 375.8 L311.3 376.1 L310.6 376.3 L309.9 374.9 L309.2 375.3 L308.5 375.7 L307.8 375.8 L307.1 377.3 L306.4 377.7 L305.7 377.8 L305.0 377.9 L304.3 378.2 L303.6 378.6 L302.9 379.0 L302.2 379.6 L301.5 379.7 L300.8 379.8 L300.1 379.9 L299.4 380.2 L298.7 380.6 L298.0 381.2 L297.3 381.6 L296.6 381.1 L295.9 381.2 L295.2 381.4 L294.5 381.6 L293.8 382.2 L293.1 382.4 L292.4 382.1 L291.7 383.2 L291.0 383.5 L290.3 383.8 L289.6 384.2 L288.9 384.4 L288.2 384.4 L287.5 385.2 L286.8 385.4 L286.1 385.9 L285.4 385.6 L284.7 385.4 L284.0 385.7 L283.3 386.1 L282.6 387.2 L281.9 387.5 L281.2 387.8 L280.5 388.3 L279.8 388.6 L279.1 389.5 L278.4 389.8 L277.7 389.7 L277.0 390.0 L276.3 390.6 L275.6 390.5 L274.9 390.8 L274.2 390.7 L273.5 391.6 L272.8 391.2 L272.1 391.5 L271.4 392.2 L270.7 391.9 L270.0 392.3 L269.3 392.5 L268.6 392.9 L267.9 393.2 L267.2 394.1 L266.5 394.4 L265.8 394.9 L265.1 395.1 L264.4 395.5 L263.7 395.9 L263.0 395.2 L262.3 395.2 L261.6 395.5 L260.9 395.7 L260.2 396.2 L259.5 396.4 L258.8 397.2 L258.1 397.5 L257.4 397.6 L256.7 397.9 L256.0 398.5 L255.3 398.8 L254.6 398.8 L253.9 399.1 L253.2 400.4 L252.5 400.7 L251.8 400.9 L251.1 401.1 L250.4 401.1 L249.7 401.4 L249.0 400.4 L248.3 401.2 L247.6 401.5 L246.9 401.4 L246.2 402.4 L245.5 403.0 L244.8 403.6 L244.1 403.8 L243.4 404.4 L242.7 404.6 L242.0 404.0 L241.3 403.7 L240.6 403.9 L239.9 404.5 L239.2 404.4 L238.5 405.0 L237.8 404.7 L237.1 404.7 L236.4 405.3 L235.7 405.4 L235.0 405.7 L234.3 405.9 L233.6 406.3 L232.9 406.6 L232.2 405.9 L231.5 406.3 L230.8 406.6 L230.1 407.5 L229.4 407.9 L228.7 408.7 L228.0 408.8 L227.3 409.1 L226.6 410.4 L225.9 410.7 L225.2 411.0 L224.5 411.4 L223.8 410.8 L223.1 411.1 L222.4 411.8 L221.7 411.5 L221.0 411.9 L220.3 412.3 L219.6 412.9 L218.9 414.2 L218.2 415.0 L217.5 415.4 L216.8 415.7 L216.1 415.1 L215.4 415.3 L214.7 415.0 L214.0 415.3 L213.3 415.4 L212.6 415.0 L211.9 416.7 L211.2 416.9 L210.5 416.3 L209.8 416.4 L209.1 416.4 L208.4 416.9 L207.7 417.2 L207.0 418.6 L206.3 418.7 L205.6 419.0 L204.9 419.3 L204.2 419.6 L203.5 418.3 L202.8 418.5 L202.1 418.5 L201.4 418.6 L200.7 418.8 L200.0 419.0 L199.3 419.9 L198.6 420.1 L197.9 420.3 L197.2 420.5 L196.5 420.7 L195.8 420.9 L195.1 422.3 L194.4 422.6 L193.7 422.8 L193.0 423.1 L192.3 423.2 L191.6 423.1 L190.9 423.4 L190.2 423.7 L189.5 424.3 L188.8 424.5 L188.1 424.5 L187.4 424.6 L186.7 425.1 L186.0 426.1 L185.3 426.0 L184.6 426.2 L183.9 425.6 L183.2 426.3 L182.5 426.2 L181.8 425.9 L181.1 426.1 L180.4 426.6 L179.7 426.8 L179.0 426.6 L178.3 426.7 L177.6 427.3 L176.9 427.4 L176.2 427.6 L175.5 427.8 L174.8 428.4 L174.1 428.6 L173.4 428.7 L172.7 428.9 L172.0 428.7 L171.3 429.2 L170.6 429.4 L169.9 430.3 L169.2 429.3 L168.5 429.7 L167.8 429.9 L167.1 430.1 L166.4 430.4 L165.7 430.0 L165.0 431.2 L164.3 431.7 L163.6 431.8 L162.9 432.4 L162.2 432.5 L161.5 432.4 L160.8 432.1 L160.1 432.2 L159.4 432.2 L158.7 432.6 L158.0 432.9 L157.3 433.2 L156.6 433.4 L155.9 433.8 L155.2 434.2 L154.5 434.5 Z" fill="#ff5512" stroke="#ff5512" stroke-width="0.6" stroke-linejoin="round"/>
<line x1="259.6" y1="131.9" x2="259.6" y2="196.70000000000002" stroke="#178a17" stroke-width="2.8" stroke-linecap="round" stroke-dasharray="8.1 9.5" stroke-dashoffset="12.1"/>
<line x1="386.6" y1="98.4" x2="386.6" y2="196.70000000000002" stroke="#178a17" stroke-width="2.8" stroke-linecap="round" stroke-dasharray="8.1 9.5" stroke-dashoffset="13.8"/>
<path d="M156.7 172.9 L275.0 123.5 L489.9 40.9" fill="none" stroke="#0a0aff" stroke-width="3.2" stroke-linecap="round" stroke-dasharray="10.2 12.4" stroke-dashoffset="-2.7"/>
<path d="M161.3 430.7 L224.4 401.6 L263.6 383.4 L292.7 370.3 L321.0 357.0 L370.0 333.4 L405.3 316.6 L449.3 296.6 L480.0 282.6 L485.8 279.2" fill="none" stroke="#0a0aff" stroke-width="2.8" stroke-linecap="round" stroke-dasharray="9.2 8.8" stroke-dashoffset="1.6"/>
<path d="M153.7 165.6 L154.2 165.3 L154.8 164.9 L155.6 164.5 L156.4 164.0 L157.3 163.5 L158.2 162.9 L159.2 162.3 L160.1 161.7 L161.1 161.2 L162.0 160.6 L162.9 160.1 L163.8 159.5 L164.6 158.9 L165.5 158.4 L166.4 157.8 L167.3 157.2 L168.3 156.6 L169.2 156.0 L170.2 155.3 L171.2 154.7 L172.2 154.0 L173.3 153.4 L174.4 152.7 L175.5 152.0 L176.7 151.2 L177.8 150.5 L179.0 149.8 L180.1 149.1 L181.3 148.4 L182.4 147.7 L183.5 147.0 L184.6 146.3 L185.8 145.7 L186.9 145.0 L188.0 144.3 L189.1 143.6 L190.2 143.0 L191.4 142.3 L192.5 141.7 L193.6 141.1 L194.7 140.5 L195.9 139.9 L197.0 139.3 L198.1 138.7 L199.3 138.1 L200.4 137.6 L201.5 137.0 L202.6 136.5 L203.7 136.0 L204.8 135.6 L205.8 135.2 L206.9 134.9 L207.8 134.5 L208.8 134.3 L209.8 134.0 L210.8 133.8 L211.8 133.5 L212.8 133.3 L213.9 133.0 L215.0 132.7 L216.2 132.4 L217.4 132.0 L218.7 131.7 L220.0 131.4 L221.4 131.0 L222.7 130.7 L224.1 130.3 L225.4 130.0 L226.8 129.7 L228.1 129.5 L229.4 129.3 L230.6 129.1 L231.8 129.0 L233.1 128.9 L234.3 128.8 L235.5 128.7 L236.8 128.6 L238.2 128.5 L239.6 128.4 L241.1 128.2 L242.7 128.0 L244.5 127.8 L246.3 127.5 L248.2 127.2 L250.2 126.9 L252.1 126.7 L254.0 126.4 L255.9 126.1 L257.7 125.8 L259.4 125.6 L261.0 125.4 L262.6 125.2 L264.1 125.0 L265.6 124.8 L267.0 124.7 L268.5 124.5 L269.8 124.3 L271.2 124.1 L272.5 123.9 L273.8 123.7 L275.0 123.5 L276.2 123.2 L277.3 122.9 L278.4 122.7 L279.4 122.4 L280.5 122.1 L281.5 121.7 L282.6 121.4 L283.8 121.1 L285.0 120.7 L286.3 120.3 L287.7 119.9 L289.2 119.5 L290.7 119.0 L292.2 118.5 L293.7 118.1 L295.2 117.6 L296.7 117.1 L298.0 116.6 L299.3 116.2 L300.5 115.8 L301.6 115.3 L302.6 114.9 L303.6 114.4 L304.6 114.0 L305.5 113.5 L306.5 113.1 L307.4 112.7 L308.4 112.3 L309.5 111.9 L310.6 111.6 L311.7 111.2 L312.9 110.9 L314.1 110.7 L315.3 110.4 L316.5 110.1 L317.7 109.9 L318.8 109.6 L320.0 109.3 L321.2 109.0 L322.4 108.7 L323.5 108.4 L324.7 108.1 L325.8 107.8 L327.0 107.4 L328.2 107.1 L329.3 106.7 L330.5 106.3 L331.6 105.9 L332.8 105.4 L334.0 104.9 L335.1 104.2 L336.2 103.6 L337.3 102.9 L338.5 102.2 L339.6 101.5 L340.8 100.8 L342.0 100.1 L343.2 99.4 L344.5 98.8 L345.8 98.2 L347.2 97.7 L348.6 97.1 L350.1 96.6 L351.5 96.0 L353.0 95.5 L354.5 95.0 L356.0 94.6 L357.5 94.2 L359.0 93.8 L360.5 93.5 L362.1 93.2 L363.6 92.9 L365.2 92.7 L366.8 92.5 L368.4 92.3 L369.9 92.1 L371.4 91.9 L372.9 91.8 L374.3 91.6 L375.6 91.4 L376.9 91.3 L378.1 91.2 L379.2 91.1 L380.3 91.0 L381.5 90.9 L382.7 90.8 L383.9 90.7 L385.2 90.5 L386.6 90.4 L388.1 90.2 L389.7 90.1 L391.4 89.9 L393.2 89.7 L395.0 89.5 L396.7 89.3 L398.5 89.1 L400.3 88.9 L402.0 88.7 L403.6 88.5 L405.2 88.3 L406.7 88.2 L408.3 88.0 L409.8 87.8 L411.2 87.7 L412.7 87.5 L414.1 87.3 L415.5 87.2 L416.9 87.0 L418.2 86.8 L419.5 86.6 L420.7 86.4 L422.0 86.2 L423.2 86.0 L424.3 85.8 L425.5 85.6 L426.6 85.4 L427.7 85.1 L428.7 84.9 L429.8 84.6 L430.9 84.3 L431.9 83.9 L432.9 83.5 L434.0 83.1 L435.0 82.7 L435.9 82.3 L436.8 81.9 L437.7 81.5 L438.5 81.2 L439.3 80.9 L440.0 80.7 L440.5 80.5 L440.9 80.4 L441.2 80.4 L441.6 80.3 L441.9 80.2 L442.4 80.1 L442.9 79.9 L443.6 79.6 L444.5 79.2 L445.6 78.7 L446.8 78.1 L448.2 77.4 L449.7 76.6 L451.2 75.8 L452.8 75.0 L454.4 74.1 L456.0 73.2 L457.6 72.3 L459.1 71.4 L460.6 70.5 L462.0 69.5 L463.5 68.6 L464.9 67.6 L466.4 66.6 L467.8 65.5 L469.2 64.5 L470.7 63.5 L472.1 62.4 L473.6 61.4 L475.1 60.4 L476.6 59.3 L478.2 58.1 L479.8 57.0 L481.4 55.9 L483.0 54.8 L484.4 53.7 L485.8 52.8 L487.1 51.9 L488.2 51.1 L489.2 50.4 L490.1 49.8 L490.9 49.3 L491.6 48.9 L492.2 48.5 L492.8 48.1 L493.3 47.8 L493.7 47.5 L494.1 47.3 L494.4 47.1" fill="none" stroke="#000" stroke-width="2.3"/>
<path d="M157.5 429.8 L157.6 429.7 L157.6 429.7 L157.6 429.6 L157.6 429.5 L157.6 429.4 L157.7 429.3 L157.9 429.1 L158.3 428.8 L158.8 428.3 L159.5 427.8 L160.5 427.1 L161.6 426.2 L163.0 425.3 L164.4 424.2 L166.0 423.0 L167.7 421.9 L169.3 420.7 L171.0 419.6 L172.6 418.5 L174.1 417.6 L175.6 416.7 L177.0 415.9 L178.5 415.2 L179.9 414.4 L181.3 413.7 L182.8 413.0 L184.2 412.3 L185.7 411.7 L187.1 411.0 L188.6 410.3 L190.1 409.6 L191.5 408.9 L193.0 408.3 L194.4 407.6 L195.9 407.0 L197.4 406.3 L198.8 405.7 L200.3 405.0 L201.7 404.4 L203.2 403.8 L204.7 403.2 L206.2 402.5 L207.8 401.9 L209.4 401.2 L210.9 400.6 L212.5 400.0 L213.9 399.4 L215.3 398.9 L216.6 398.4 L217.7 397.9 L218.7 397.5 L219.5 397.2 L220.1 396.9 L220.7 396.7 L221.3 396.5 L221.8 396.3 L222.3 396.1 L222.9 395.9 L223.5 395.6 L224.3 395.3 L225.2 394.9 L226.0 394.5 L227.0 394.0 L227.9 393.6 L228.9 393.1 L229.9 392.5 L231.0 392.0 L232.1 391.5 L233.3 391.0 L234.5 390.5 L235.8 390.0 L237.1 389.5 L238.6 389.0 L240.0 388.4 L241.5 387.9 L243.1 387.4 L244.6 386.9 L246.1 386.4 L247.6 385.9 L249.1 385.4 L250.6 384.9 L252.0 384.5 L253.5 384.1 L254.9 383.6 L256.4 383.2 L257.8 382.8 L259.2 382.3 L260.7 381.9 L262.1 381.5 L263.6 381.0 L265.1 380.5 L266.5 380.0 L268.0 379.6 L269.4 379.1 L270.9 378.6 L272.4 378.1 L273.8 377.6 L275.3 377.0 L276.7 376.5 L278.2 375.9 L279.7 375.3 L281.2 374.6 L282.8 373.9 L284.4 373.2 L285.9 372.5 L287.5 371.8 L288.9 371.2 L290.3 370.5 L291.6 369.9 L292.7 369.4 L293.7 369.0 L294.5 368.6 L295.1 368.3 L295.7 368.0 L296.3 367.7 L296.8 367.5 L297.3 367.2 L297.9 366.9 L298.5 366.6 L299.3 366.2 L300.2 365.7 L301.1 365.2 L302.0 364.7 L303.0 364.1 L304.1 363.5 L305.1 362.9 L306.2 362.3 L307.3 361.7 L308.4 361.1 L309.5 360.6 L310.6 360.1 L311.7 359.7 L312.7 359.3 L313.8 358.9 L314.9 358.5 L316.0 358.1 L317.2 357.7 L318.5 357.2 L319.8 356.8 L321.2 356.2 L322.7 355.6 L324.4 354.9 L326.1 354.2 L327.9 353.5 L329.7 352.7 L331.6 352.0 L333.4 351.2 L335.2 350.4 L336.9 349.6 L338.6 348.9 L340.2 348.2 L341.7 347.4 L343.2 346.7 L344.6 346.0 L346.1 345.3 L347.5 344.5 L348.9 343.8 L350.3 343.1 L351.8 342.4 L353.2 341.7 L354.7 341.0 L356.2 340.3 L357.8 339.6 L359.4 338.9 L360.9 338.2 L362.5 337.5 L363.9 336.8 L365.3 336.2 L366.6 335.6 L367.7 335.1 L368.7 334.6 L369.5 334.2 L370.1 333.8 L370.7 333.5 L371.3 333.1 L371.8 332.8 L372.3 332.5 L372.9 332.2 L373.5 331.9 L374.3 331.5 L375.1 331.1 L375.9 330.8 L376.8 330.5 L377.6 330.2 L378.5 329.9 L379.5 329.5 L380.5 329.2 L381.7 328.7 L383.0 328.3 L384.5 327.7 L386.2 327.1 L388.1 326.3 L390.2 325.5 L392.3 324.7 L394.6 323.8 L396.9 323.0 L399.2 322.1 L401.4 321.2 L403.4 320.4 L405.3 319.7 L407.0 319.0 L408.5 318.4 L409.9 317.9 L411.2 317.3 L412.6 316.8 L413.9 316.2 L415.2 315.7 L416.7 315.1 L418.2 314.4 L420.0 313.7 L421.9 312.9 L424.0 312.1 L426.2 311.2 L428.4 310.4 L430.7 309.4 L433.1 308.5 L435.4 307.5 L437.8 306.6 L440.1 305.6 L442.4 304.6 L444.7 303.6 L447.0 302.5 L449.3 301.5 L451.7 300.4 L454.0 299.3 L456.4 298.2 L458.6 297.1 L460.8 296.0 L462.9 295.0 L464.8 294.0 L466.6 293.0 L468.4 292.1 L470.0 291.2 L471.6 290.3 L473.2 289.5 L474.6 288.6 L476.0 287.8 L477.4 287.0 L478.7 286.1 L480.0 285.3 L481.3 284.4 L482.5 283.5 L483.7 282.6 L484.9 281.7 L486.1 280.8 L487.1 279.9 L488.0 279.1 L488.9 278.4 L489.6 277.8 L490.2 277.3" fill="none" stroke="#000" stroke-width="2.3"/>
<circle cx="259.6" cy="124.9" r="6.0" fill="none" stroke="#178a17" stroke-width="2.7"/>
<circle cx="386.6" cy="91.4" r="6.0" fill="none" stroke="#178a17" stroke-width="2.7"/>
<rect x="139.8" y="162.8" width="12" height="12" fill="none" stroke="#c432a8" stroke-width="2.6"/>
<rect x="494.3" y="41.7" width="12" height="12" fill="none" stroke="#c432a8" stroke-width="2.6"/>
<rect x="145.5" y="422.7" width="12" height="12" fill="none" stroke="#c432a8" stroke-width="2.6"/>
<rect x="490.0" y="275.8" width="12" height="12" fill="none" stroke="#c432a8" stroke-width="2.6"/>
<circle cx="151.2" cy="175.2" r="6.0" fill="none" stroke="#0a0aff" stroke-width="3.0"/>
<circle cx="494.6" cy="39.1" r="6.0" fill="none" stroke="#0a0aff" stroke-width="3.0"/>
<circle cx="155.9" cy="433.2" r="6.0" fill="none" stroke="#0a0aff" stroke-width="3.0"/>
<circle cx="490.1" cy="276.6" r="6.0" fill="none" stroke="#0a0aff" stroke-width="3.0"/>
<path d="M315.7 340.0 L326.3 350.6 M315.7 350.6 L326.3 340.0" stroke="#8e1b1b" stroke-width="2.1" fill="none"/>
<path d="M315.7 362.4 L326.3 373.0 M315.7 373.0 L326.3 362.4" stroke="#8e1b1b" stroke-width="2.1" fill="none"/>
<g font-family="Liberation Sans, Arial, sans-serif" fill="#262626">
<text transform="translate(99.4 208.4) scale(1.0 1)" text-anchor="end" font-size="27.4">-200</text>
<text transform="translate(99.4 163.8) scale(1.0 1)" text-anchor="end" font-size="27.4">-100</text>
<text transform="translate(99.4 119.3) scale(1.0 1)" text-anchor="end" font-size="27.4">0</text>
<text transform="translate(99.4 74.8) scale(1.0 1)" text-anchor="end" font-size="27.4">100</text>
<text transform="translate(99.4 30.2) scale(1.0 1)" text-anchor="end" font-size="27.4">200</text>
<text transform="translate(99.4 459.3) scale(1.0 1)" text-anchor="end" font-size="27.4">-750</text>
<text transform="translate(99.4 428.5) scale(1.0 1)" text-anchor="end" font-size="27.4">-500</text>
<text transform="translate(99.4 397.7) scale(1.0 1)" text-anchor="end" font-size="27.4">-250</text>
<text transform="translate(99.4 366.9) scale(1.0 1)" text-anchor="end" font-size="27.4">0</text>
<text transform="translate(99.4 336.2) scale(1.0 1)" text-anchor="end" font-size="27.4">250</text>
<text transform="translate(99.4 305.4) scale(1.0 1)" text-anchor="end" font-size="27.4">500</text>
<text transform="translate(99.4 274.6) scale(1.0 1)" text-anchor="end" font-size="27.4">750</text>
<text transform="translate(151.6 235.0) scale(1.0 1)" text-anchor="middle" font-size="27.4">-20</text>
<text transform="translate(151.6 485.6) scale(1.0 1)" text-anchor="middle" font-size="27.4">-20</text>
<text transform="translate(235.6 235.0) scale(1.0 1)" text-anchor="middle" font-size="27.4">-10</text>
<text transform="translate(235.6 485.6) scale(1.0 1)" text-anchor="middle" font-size="27.4">-10</text>
<text transform="translate(320.8 235.0) scale(1.0 1)" text-anchor="middle" font-size="27.4">0</text>
<text transform="translate(320.8 485.6) scale(1.0 1)" text-anchor="middle" font-size="27.4">0</text>
<text transform="translate(404.8 235.0) scale(1.0 1)" text-anchor="middle" font-size="27.4">10</text>
<text transform="translate(404.8 485.6) scale(1.0 1)" text-anchor="middle" font-size="27.4">10</text>
<text transform="translate(488.8 235.0) scale(1.0 1)" text-anchor="middle" font-size="27.4">20</text>
<text transform="translate(488.8 485.6) scale(1.0 1)" text-anchor="middle" font-size="27.4">20</text>
<text transform="translate(321.3 521.8) scale(1.0 1)" text-anchor="middle" font-size="26.8">Voltage (kV)</text>
<text transform="translate(34.1 111.0) rotate(-90) scale(1.0 1)" text-anchor="middle" font-size="26.8">Current (A)</text>
<text transform="translate(31.3 354.8) rotate(-90) scale(1.0 1)" text-anchor="middle" font-size="26.8">Current (A)</text>
</g>
<text x="431.7" y="36" font-family="Liberation Serif, Times New Roman, serif" font-size="33.5" fill="#111" stroke="#111" stroke-width="0.45"><tspan font-style="italic">I</tspan><tspan font-size="23.4" dy="5.2" dx="0">max</tspan></text>
<text x="485.2" y="82.5" font-family="Liberation Serif, Times New Roman, serif" font-size="33.5" fill="#111" stroke="#111" stroke-width="0.45"><tspan font-style="italic">V</tspan><tspan font-size="22.9" dy="5.2" dx="-1">max</tspan></text>
<text x="109.0" y="152.8" font-family="Liberation Serif, Times New Roman, serif" font-size="33.5" fill="#111" stroke="#111" stroke-width="0.45"><tspan font-style="italic">V</tspan><tspan font-size="23.4" dy="3.2" dx="-2">min</tspan></text>
<text x="157.3" y="191.7" font-family="Liberation Serif, Times New Roman, serif" font-size="33.5" fill="#111" stroke="#111" stroke-width="0.45"><tspan font-style="italic">I</tspan><tspan font-size="23.4" dy="3.8" dx="0">min</tspan></text>
<text x="427.3" y="275.6" font-family="Liberation Serif, Times New Roman, serif" font-size="33.5" fill="#111" stroke="#111" stroke-width="0.45"><tspan font-style="italic">I</tspan><tspan font-size="22.9" dy="5.5" dx="0">max</tspan></text>
<text x="470.6" y="317.6" font-family="Liberation Serif, Times New Roman, serif" font-size="33.5" fill="#111" stroke="#111" stroke-width="0.45"><tspan font-style="italic">V</tspan><tspan font-size="23.0" dy="6.2" dx="-1">max</tspan></text>
<text x="111.0" y="413.5" font-family="Liberation Serif, Times New Roman, serif" font-size="33.5" fill="#111" stroke="#111" stroke-width="0.45"><tspan font-style="italic">V</tspan><tspan font-size="23.4" dy="3.0" dx="-1">min</tspan></text>
<text x="166.7" y="455.8" font-family="Liberation Serif, Times New Roman, serif" font-size="33.5" fill="#111" stroke="#111" stroke-width="0.45"><tspan font-style="italic">I</tspan><tspan font-size="23.4" dy="4.6" dx="0">min</tspan></text>
<text x="306.3" y="330.3" font-family="Liberation Serif, Times New Roman, serif" font-size="34" fill="#111" stroke="#111" stroke-width="0.45"><tspan font-style="italic">i</tspan><tspan font-size="22.5" dy="5.5" dx="0.3">0</tspan><tspan font-size="24" dy="-16.2" dx="1.0">+</tspan></text>
<text x="306.3" y="404.3" font-family="Liberation Serif, Times New Roman, serif" font-size="34" fill="#111" stroke="#111" stroke-width="0.45"><tspan font-style="italic">i</tspan><tspan font-size="22.5" dy="5.5" dx="0.3">0</tspan><tspan font-size="25" dy="-18.8" dx="1.0">−</tspan></text>
</svg>
</body></html>
